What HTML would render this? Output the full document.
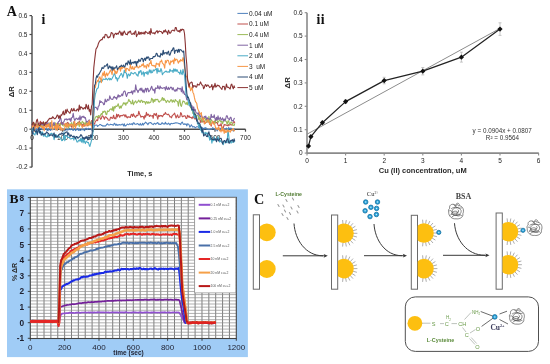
<!DOCTYPE html>
<html><head><meta charset="utf-8"><style>
html,body{margin:0;padding:0;background:#fff;width:550px;height:364px;overflow:hidden}
svg{display:block;filter:blur(0.3px)}
text{font-family:"Liberation Sans",sans-serif;fill:#333}
.t6{font-size:6.5px;fill:#222}
.t55{font-size:5.6px}
.t8{font-size:8px;fill:#1e2030}
.t35{font-size:3.4px;fill:#555}
.b7{font-size:7px;font-weight:bold;fill:#2a2a2a}
.b75{font-size:7.6px;font-weight:bold;fill:#1e2030}
.serifb{font-family:"Liberation Serif",serif;font-weight:bold;fill:#111}
.g5{font-size:5.2px;fill:#4f7a30;font-weight:bold}
.g6{font-size:5.6px;fill:#6a9a4a}
.g45{font-size:4.5px;fill:#6a9a4a}
.g55{font-size:5.4px;fill:#5a8a3a;font-weight:bold}
.s6{font-family:"Liberation Serif",serif;font-size:6.5px;fill:#333}
.s6b{font-family:"Liberation Serif",serif;font-size:7.5px;font-weight:bold;fill:#3a3a5a}
.sb7{font-family:"Liberation Serif",serif;font-size:8px;font-weight:bold;fill:#444}
</style></head><body>
<svg width="550" height="364" viewBox="0 0 550 364">
<line x1="32" y1="15.9" x2="32" y2="167.2" stroke="#4a4a4a" stroke-width="1.4"/>
<line x1="32" y1="129.2" x2="245.5" y2="129.2" stroke="#4a4a4a" stroke-width="1.4"/>
<line x1="29.5" y1="15.6" x2="32" y2="15.6" stroke="#4a4a4a" stroke-width="1.2"/>
<text x="27.5" y="17.9" class="t6" text-anchor="end">0.6</text>
<line x1="29.5" y1="34.5" x2="32" y2="34.5" stroke="#4a4a4a" stroke-width="1.2"/>
<text x="27.5" y="36.8" class="t6" text-anchor="end">0.5</text>
<line x1="29.5" y1="53.5" x2="32" y2="53.5" stroke="#4a4a4a" stroke-width="1.2"/>
<text x="27.5" y="55.8" class="t6" text-anchor="end">0.4</text>
<line x1="29.5" y1="72.4" x2="32" y2="72.4" stroke="#4a4a4a" stroke-width="1.2"/>
<text x="27.5" y="74.7" class="t6" text-anchor="end">0.3</text>
<line x1="29.5" y1="91.3" x2="32" y2="91.3" stroke="#4a4a4a" stroke-width="1.2"/>
<text x="27.5" y="93.6" class="t6" text-anchor="end">0.2</text>
<line x1="29.5" y1="110.3" x2="32" y2="110.3" stroke="#4a4a4a" stroke-width="1.2"/>
<text x="27.5" y="112.6" class="t6" text-anchor="end">0.1</text>
<line x1="29.5" y1="129.2" x2="32" y2="129.2" stroke="#4a4a4a" stroke-width="1.2"/>
<text x="27.5" y="131.5" class="t6" text-anchor="end">0</text>
<line x1="29.5" y1="148.1" x2="32" y2="148.1" stroke="#4a4a4a" stroke-width="1.2"/>
<text x="27.5" y="150.4" class="t6" text-anchor="end">-0.1</text>
<line x1="29.5" y1="167.1" x2="32" y2="167.1" stroke="#4a4a4a" stroke-width="1.2"/>
<text x="27.5" y="169.4" class="t6" text-anchor="end">-0.2</text>
<line x1="32.0" y1="129.2" x2="32.0" y2="131.7" stroke="#4a4a4a" stroke-width="1.2"/>
<text x="32.0" y="139.6" class="t6" text-anchor="middle">0</text>
<line x1="62.5" y1="129.2" x2="62.5" y2="131.7" stroke="#4a4a4a" stroke-width="1.2"/>
<text x="62.5" y="139.6" class="t6" text-anchor="middle">100</text>
<line x1="93.0" y1="129.2" x2="93.0" y2="131.7" stroke="#4a4a4a" stroke-width="1.2"/>
<text x="93.0" y="139.6" class="t6" text-anchor="middle">200</text>
<line x1="123.5" y1="129.2" x2="123.5" y2="131.7" stroke="#4a4a4a" stroke-width="1.2"/>
<text x="123.5" y="139.6" class="t6" text-anchor="middle">300</text>
<line x1="154.0" y1="129.2" x2="154.0" y2="131.7" stroke="#4a4a4a" stroke-width="1.2"/>
<text x="154.0" y="139.6" class="t6" text-anchor="middle">400</text>
<line x1="184.5" y1="129.2" x2="184.5" y2="131.7" stroke="#4a4a4a" stroke-width="1.2"/>
<text x="184.5" y="139.6" class="t6" text-anchor="middle">500</text>
<line x1="215.0" y1="129.2" x2="215.0" y2="131.7" stroke="#4a4a4a" stroke-width="1.2"/>
<text x="215.0" y="139.6" class="t6" text-anchor="middle">600</text>
<line x1="245.5" y1="129.2" x2="245.5" y2="131.7" stroke="#4a4a4a" stroke-width="1.2"/>
<text x="245.5" y="139.6" class="t6" text-anchor="middle">700</text>
<polyline points="32.0,128.7 32.8,128.5 33.5,129.0 34.3,130.3 35.0,129.4 35.8,130.0 36.6,129.0 37.3,130.0 38.1,128.6 38.9,128.7 39.6,127.5 40.4,128.5 41.1,128.5 41.9,129.3 42.7,129.7 43.4,128.1 44.2,129.0 45.0,128.7 45.7,128.9 46.5,128.5 47.2,130.5 48.0,130.7 48.8,128.9 49.5,127.4 50.3,130.5 51.1,129.9 51.8,129.1 52.6,129.6 53.3,129.5 54.1,129.5 54.9,128.5 55.6,129.1 56.4,129.1 57.2,130.1 57.9,128.8 58.7,127.8 59.5,128.6 60.2,129.4 61.0,130.2 61.7,129.0 62.5,128.9 63.3,129.4 64.0,131.0 64.8,130.0 65.5,130.2 66.3,130.0 67.1,129.1 67.8,130.1 68.6,129.5 69.4,128.3 70.1,129.8 70.9,129.4 71.7,128.8 72.4,129.7 73.2,130.5 73.9,129.2 74.7,128.6 75.5,130.6 76.2,129.7 77.0,129.7 77.8,128.3 78.5,130.4 79.3,129.6 80.0,130.5 80.8,130.2 81.6,129.4 82.3,129.6 83.1,129.4 83.8,129.9 84.6,130.6 85.4,128.7 86.1,128.1 86.9,129.2 87.7,129.6 88.4,128.3 89.2,128.8 89.9,129.0 90.7,128.6 91.5,129.9 92.2,129.5 93.0,128.3 93.8,127.8 94.5,125.6 95.3,125.3 96.0,125.0 96.8,125.0 97.6,126.4 98.3,125.6 99.1,125.1 99.9,124.5 100.6,124.5 101.4,125.4 102.1,125.4 102.9,126.2 103.7,125.7 104.4,125.9 105.2,126.2 106.0,125.5 106.7,124.4 107.5,123.8 108.2,124.7 109.0,125.1 109.8,124.8 110.5,124.3 111.3,124.5 112.1,124.6 112.8,125.0 113.6,125.1 114.3,123.2 115.1,123.9 115.9,125.4 116.6,124.2 117.4,125.3 118.2,124.6 118.9,125.1 119.7,124.5 120.5,125.0 121.2,124.9 122.0,124.2 122.7,124.1 123.5,125.9 124.3,123.7 125.0,126.1 125.8,125.8 126.5,125.0 127.3,124.1 128.1,124.5 128.8,124.8 129.6,123.7 130.4,124.3 131.1,124.4 131.9,123.7 132.6,124.8 133.4,122.7 134.2,123.1 134.9,124.2 135.7,124.2 136.5,124.1 137.2,123.6 138.0,123.8 138.8,124.8 139.5,125.0 140.3,123.4 141.0,125.1 141.8,124.9 142.6,123.3 143.3,125.1 144.1,123.7 144.8,123.2 145.6,122.1 146.4,122.8 147.1,123.7 147.9,124.7 148.7,123.0 149.4,122.9 150.2,122.6 150.9,122.6 151.7,123.7 152.5,124.1 153.2,124.7 154.0,123.6 154.8,123.2 155.5,124.2 156.3,123.7 157.1,123.0 157.8,122.5 158.6,124.2 159.3,123.9 160.1,124.5 160.9,124.5 161.6,123.1 162.4,122.9 163.2,123.9 163.9,123.8 164.7,124.1 165.4,122.3 166.2,123.9 167.0,123.9 167.7,124.2 168.5,123.1 169.2,123.9 170.0,125.0 170.8,123.5 171.5,123.4 172.3,123.7 173.1,123.5 173.8,123.4 174.6,123.3 175.3,122.7 176.1,123.0 176.9,122.8 177.6,123.0 178.4,123.2 179.2,123.7 179.9,123.6 180.7,124.6 181.4,122.9 182.2,122.0 183.0,123.6 183.7,124.5 184.5,123.8 185.3,124.4 186.0,123.8 186.8,125.9 187.5,123.8 188.3,124.0 189.1,124.9 189.8,127.2 190.6,126.2 191.4,124.9 192.1,126.0 192.9,127.1 193.7,126.6 194.4,126.8 195.2,128.0 195.9,127.4 196.7,126.7 197.5,126.8 198.2,127.0 199.0,127.7 199.8,128.7 200.5,128.4 201.3,126.9 202.0,127.9 202.8,127.9 203.6,129.4 204.3,127.9 205.1,128.6 205.8,127.6 206.6,129.1 207.4,129.1 208.1,129.3 208.9,129.7 209.7,129.5 210.4,129.1 211.2,129.2 211.9,128.9 212.7,127.7 213.5,128.6 214.2,128.7 215.0,129.7 215.8,127.8 216.5,129.6 217.3,130.9 218.0,129.3 218.8,128.9 219.6,129.9 220.3,128.2 221.1,130.4 221.9,130.5 222.6,129.4 223.4,129.5 224.2,129.4 224.9,128.8 225.7,129.3 226.4,128.1 227.2,130.3 228.0,128.9 228.7,127.6 229.5,128.9 230.2,128.5 231.0,128.1 231.8,129.0 232.5,129.4 233.3,131.1 234.1,129.9 234.8,128.4" fill="none" stroke="#4F81BD" stroke-width="1.1" stroke-linejoin="round" />
<polyline points="32.0,126.3 32.8,125.9 33.5,122.2 34.3,125.7 35.0,127.5 35.8,125.1 36.6,125.0 37.3,124.2 38.1,125.7 38.9,123.1 39.6,124.0 40.4,121.2 41.1,123.9 41.9,124.6 42.7,122.9 43.4,123.5 44.2,126.0 45.0,123.9 45.7,125.8 46.5,123.2 47.2,125.6 48.0,124.4 48.8,126.0 49.5,124.4 50.3,122.7 51.1,122.9 51.8,125.5 52.6,126.8 53.3,123.9 54.1,125.6 54.9,125.9 55.6,123.7 56.4,126.4 57.2,123.6 57.9,122.9 58.7,124.3 59.5,125.9 60.2,125.0 61.0,122.3 61.7,124.0 62.5,122.5 63.3,124.1 64.0,124.2 64.8,124.0 65.5,124.1 66.3,123.8 67.1,123.0 67.8,122.3 68.6,124.3 69.4,125.6 70.1,125.3 70.9,125.7 71.7,127.3 72.4,124.4 73.2,125.3 73.9,121.5 74.7,124.6 75.5,126.2 76.2,123.6 77.0,123.9 77.8,122.6 78.5,123.5 79.3,121.0 80.0,124.6 80.8,123.5 81.6,124.4 82.3,124.6 83.1,126.3 83.8,123.1 84.6,126.1 85.4,123.4 86.1,122.9 86.9,123.0 87.7,125.9 88.4,122.6 89.2,124.5 89.9,123.0 90.7,124.0 91.5,120.6 92.2,125.0 93.0,125.8 93.8,123.3 94.5,124.1 95.3,121.5 96.0,120.9 96.8,119.9 97.6,120.6 98.3,117.3 99.1,116.6 99.9,117.5 100.6,119.3 101.4,118.3 102.1,115.9 102.9,116.0 103.7,117.5 104.4,119.3 105.2,116.8 106.0,117.0 106.7,117.9 107.5,118.3 108.2,120.0 109.0,120.3 109.8,119.9 110.5,117.4 111.3,117.2 112.1,118.5 112.8,117.8 113.6,115.2 114.3,118.7 115.1,117.8 115.9,118.8 116.6,114.1 117.4,117.0 118.2,114.5 118.9,115.2 119.7,117.3 120.5,115.5 121.2,115.8 122.0,115.4 122.7,115.6 123.5,114.9 124.3,114.9 125.0,116.9 125.8,114.8 126.5,116.9 127.3,117.9 128.1,116.6 128.8,117.2 129.6,116.9 130.4,117.5 131.1,114.7 131.9,114.3 132.6,116.5 133.4,113.8 134.2,115.6 134.9,116.8 135.7,117.3 136.5,115.2 137.2,115.7 138.0,115.3 138.8,111.2 139.5,113.8 140.3,115.5 141.0,117.2 141.8,116.3 142.6,116.6 143.3,116.5 144.1,119.1 144.8,115.6 145.6,117.1 146.4,112.3 147.1,115.5 147.9,114.0 148.7,114.7 149.4,116.5 150.2,115.2 150.9,116.0 151.7,116.0 152.5,115.5 153.2,118.3 154.0,113.5 154.8,114.3 155.5,115.4 156.3,113.2 157.1,116.5 157.8,119.1 158.6,115.2 159.3,116.5 160.1,115.4 160.9,116.0 161.6,115.6 162.4,116.7 163.2,115.4 163.9,114.1 164.7,114.4 165.4,112.4 166.2,113.9 167.0,114.3 167.7,114.7 168.5,114.2 169.2,115.2 170.0,116.9 170.8,116.7 171.5,117.8 172.3,115.5 173.1,114.8 173.8,114.1 174.6,113.1 175.3,115.3 176.1,118.0 176.9,116.1 177.6,114.9 178.4,117.6 179.2,117.1 179.9,117.0 180.7,112.5 181.4,113.6 182.2,116.6 183.0,116.7 183.7,116.0 184.5,115.9 185.3,116.1 186.0,118.4 186.8,118.5 187.5,115.2 188.3,117.1 189.1,115.9 189.8,117.5 190.6,117.4 191.4,117.6 192.1,118.6 192.9,116.6 193.7,117.2 194.4,118.7 195.2,118.9 195.9,117.1 196.7,121.1 197.5,119.2 198.2,118.9 199.0,118.5 199.8,118.9 200.5,122.4 201.3,120.5 202.0,122.2 202.8,120.8 203.6,121.8 204.3,120.9 205.1,123.3 205.8,122.4 206.6,122.0 207.4,122.0 208.1,121.6 208.9,120.4 209.7,124.5 210.4,123.6 211.2,126.2 211.9,123.1 212.7,121.4 213.5,123.3 214.2,122.1 215.0,120.7 215.8,123.0 216.5,122.6 217.3,122.5 218.0,125.1 218.8,126.0 219.6,125.0 220.3,125.6 221.1,123.5 221.9,127.6 222.6,127.7 223.4,127.5 224.2,124.5 224.9,124.9 225.7,124.9 226.4,125.2 227.2,125.4 228.0,125.9 228.7,124.6 229.5,125.1 230.2,124.4 231.0,124.9 231.8,124.8 232.5,124.9 233.3,121.9 234.1,121.6 234.8,123.0" fill="none" stroke="#C0504D" stroke-width="1.1" stroke-linejoin="round" />
<polyline points="32.0,124.2 32.8,123.6 33.5,124.1 34.3,123.2 35.0,126.2 35.8,126.3 36.6,126.8 37.3,126.7 38.1,123.6 38.9,124.6 39.6,126.4 40.4,126.5 41.1,123.5 41.9,126.6 42.7,126.0 43.4,124.4 44.2,123.1 45.0,122.9 45.7,125.5 46.5,126.9 47.2,126.7 48.0,124.5 48.8,124.5 49.5,123.0 50.3,123.4 51.1,123.0 51.8,126.1 52.6,126.5 53.3,124.9 54.1,124.1 54.9,125.7 55.6,122.8 56.4,126.9 57.2,125.0 57.9,126.0 58.7,124.1 59.5,123.7 60.2,124.9 61.0,124.0 61.7,122.5 62.5,125.3 63.3,125.7 64.0,126.0 64.8,125.1 65.5,125.9 66.3,127.2 67.1,123.6 67.8,126.1 68.6,127.9 69.4,123.9 70.1,126.1 70.9,123.7 71.7,122.6 72.4,125.6 73.2,126.1 73.9,122.7 74.7,126.6 75.5,126.2 76.2,125.5 77.0,125.4 77.8,122.3 78.5,124.1 79.3,126.7 80.0,122.1 80.8,122.8 81.6,124.0 82.3,121.2 83.1,122.3 83.8,122.5 84.6,124.6 85.4,123.9 86.1,121.5 86.9,122.5 87.7,123.9 88.4,125.7 89.2,123.1 89.9,123.2 90.7,122.0 91.5,122.3 92.2,122.1 93.0,123.3 93.8,120.9 94.5,120.0 95.3,117.3 96.0,116.7 96.8,116.3 97.6,117.6 98.3,115.6 99.1,115.8 99.9,116.8 100.6,114.9 101.4,113.5 102.1,114.6 102.9,111.3 103.7,112.4 104.4,111.1 105.2,111.2 106.0,114.4 106.7,114.6 107.5,110.8 108.2,111.4 109.0,111.3 109.8,109.4 110.5,109.1 111.3,108.9 112.1,110.3 112.8,106.7 113.6,111.2 114.3,106.6 115.1,108.1 115.9,105.9 116.6,106.5 117.4,105.8 118.2,103.7 118.9,106.3 119.7,108.4 120.5,106.1 121.2,108.1 122.0,105.4 122.7,105.0 123.5,102.8 124.3,104.0 125.0,102.7 125.8,105.3 126.5,102.8 127.3,103.2 128.1,101.5 128.8,99.3 129.6,101.4 130.4,101.3 131.1,103.8 131.9,103.7 132.6,100.0 133.4,104.7 134.2,103.1 134.9,101.8 135.7,100.9 136.5,103.0 137.2,102.3 138.0,101.4 138.8,100.1 139.5,101.8 140.3,102.4 141.0,100.2 141.8,100.3 142.6,102.5 143.3,101.4 144.1,101.9 144.8,101.6 145.6,104.2 146.4,101.6 147.1,101.7 147.9,103.4 148.7,101.8 149.4,102.9 150.2,102.5 150.9,101.9 151.7,98.2 152.5,99.3 153.2,102.6 154.0,99.5 154.8,101.5 155.5,99.2 156.3,99.9 157.1,99.2 157.8,99.5 158.6,101.7 159.3,102.1 160.1,101.0 160.9,100.8 161.6,99.5 162.4,97.5 163.2,100.5 163.9,98.2 164.7,100.2 165.4,100.2 166.2,102.6 167.0,101.3 167.7,100.3 168.5,101.5 169.2,102.4 170.0,101.4 170.8,99.7 171.5,99.9 172.3,102.2 173.1,100.1 173.8,101.6 174.6,102.1 175.3,99.5 176.1,100.6 176.9,101.2 177.6,101.5 178.4,106.2 179.2,100.8 179.9,99.5 180.7,105.5 181.4,106.3 182.2,103.3 183.0,100.8 183.7,101.6 184.5,101.6 185.3,103.7 186.0,104.3 186.8,102.4 187.5,104.8 188.3,101.4 189.1,102.4 189.8,105.1 190.6,107.7 191.4,105.6 192.1,109.2 192.9,113.4 193.7,113.8 194.4,116.7 195.2,113.5 195.9,116.7 196.7,116.0 197.5,115.8 198.2,115.1 199.0,119.7 199.8,117.4 200.5,118.9 201.3,118.7 202.0,122.0 202.8,119.0 203.6,118.6 204.3,118.6 205.1,118.3 205.8,120.5 206.6,122.1 207.4,119.0 208.1,121.9 208.9,116.3 209.7,120.4 210.4,123.5 211.2,119.6 211.9,120.7 212.7,121.8 213.5,121.7 214.2,121.5 215.0,123.3 215.8,119.8 216.5,119.3 217.3,121.0 218.0,122.5 218.8,121.2 219.6,120.0 220.3,120.9 221.1,122.1 221.9,121.4 222.6,123.8 223.4,121.0 224.2,119.9 224.9,120.9 225.7,120.9 226.4,121.6 227.2,124.5 228.0,120.8 228.7,120.8 229.5,124.3 230.2,123.6 231.0,122.0 231.8,122.4 232.5,124.9 233.3,125.2 234.1,125.6 234.8,123.4" fill="none" stroke="#9BBB59" stroke-width="1.1" stroke-linejoin="round" />
<polyline points="32.0,124.1 32.8,126.0 33.5,126.4 34.3,128.6 35.0,125.8 35.8,124.9 36.6,126.2 37.3,126.0 38.1,128.1 38.9,123.2 39.6,124.4 40.4,125.7 41.1,124.1 41.9,124.3 42.7,124.7 43.4,125.2 44.2,124.7 45.0,123.9 45.7,123.1 46.5,122.9 47.2,123.6 48.0,122.7 48.8,124.5 49.5,127.0 50.3,127.1 51.1,122.9 51.8,126.8 52.6,125.7 53.3,124.0 54.1,122.2 54.9,127.2 55.6,125.9 56.4,125.0 57.2,124.6 57.9,123.1 58.7,121.3 59.5,121.2 60.2,117.2 61.0,118.7 61.7,123.8 62.5,124.4 63.3,122.1 64.0,121.7 64.8,119.1 65.5,119.4 66.3,118.9 67.1,120.1 67.8,119.2 68.6,119.0 69.4,119.8 70.1,118.3 70.9,121.5 71.7,117.5 72.4,117.5 73.2,113.3 73.9,117.9 74.7,120.7 75.5,119.2 76.2,118.1 77.0,118.8 77.8,119.5 78.5,117.9 79.3,119.7 80.0,115.7 80.8,120.1 81.6,117.2 82.3,116.4 83.1,117.5 83.8,116.2 84.6,118.0 85.4,117.6 86.1,120.9 86.9,122.1 87.7,121.5 88.4,120.8 89.2,119.8 89.9,124.1 90.7,124.1 91.5,124.8 92.2,122.3 93.0,124.5 93.8,113.2 94.5,107.0 95.3,107.5 96.0,107.2 96.8,108.6 97.6,110.0 98.3,106.2 99.1,105.8 99.9,100.5 100.6,102.5 101.4,101.6 102.1,102.5 102.9,102.8 103.7,104.7 104.4,104.3 105.2,99.1 106.0,101.7 106.7,101.6 107.5,99.2 108.2,100.3 109.0,100.2 109.8,95.9 110.5,98.1 111.3,99.3 112.1,99.2 112.8,99.4 113.6,97.3 114.3,96.4 115.1,98.0 115.9,97.3 116.6,99.3 117.4,97.0 118.2,94.7 118.9,97.2 119.7,95.6 120.5,96.3 121.2,95.6 122.0,93.9 122.7,95.7 123.5,92.0 124.3,91.1 125.0,91.1 125.8,94.5 126.5,96.5 127.3,94.2 128.1,92.6 128.8,92.6 129.6,92.7 130.4,92.2 131.1,92.7 131.9,90.8 132.6,94.1 133.4,91.2 134.2,90.5 134.9,92.1 135.7,84.8 136.5,89.8 137.2,90.2 138.0,92.6 138.8,90.2 139.5,89.9 140.3,88.2 141.0,90.7 141.8,88.1 142.6,92.0 143.3,90.0 144.1,92.8 144.8,89.9 145.6,88.2 146.4,91.9 147.1,88.3 147.9,88.3 148.7,91.8 149.4,91.0 150.2,90.0 150.9,88.0 151.7,86.2 152.5,89.5 153.2,90.3 154.0,89.2 154.8,93.1 155.5,87.9 156.3,88.3 157.1,88.5 157.8,85.6 158.6,88.1 159.3,89.0 160.1,86.0 160.9,88.3 161.6,87.8 162.4,88.4 163.2,88.1 163.9,87.7 164.7,87.6 165.4,90.2 166.2,86.3 167.0,89.0 167.7,89.4 168.5,87.3 169.2,89.5 170.0,88.2 170.8,87.0 171.5,87.4 172.3,89.8 173.1,87.6 173.8,89.6 174.6,90.9 175.3,91.2 176.1,89.3 176.9,90.9 177.6,87.8 178.4,88.4 179.2,89.1 179.9,88.3 180.7,88.7 181.4,91.8 182.2,86.7 183.0,93.1 183.7,91.1 184.5,94.5 185.3,94.2 186.0,96.2 186.8,99.8 187.5,98.8 188.3,101.2 189.1,103.1 189.8,105.9 190.6,102.9 191.4,106.2 192.1,105.8 192.9,110.5 193.7,106.9 194.4,110.4 195.2,109.4 195.9,112.5 196.7,113.1 197.5,113.1 198.2,114.8 199.0,112.1 199.8,116.3 200.5,117.0 201.3,115.0 202.0,116.5 202.8,118.7 203.6,118.0 204.3,116.4 205.1,117.5 205.8,116.0 206.6,119.8 207.4,117.7 208.1,119.3 208.9,118.8 209.7,119.2 210.4,119.6 211.2,114.2 211.9,117.5 212.7,116.7 213.5,117.4 214.2,114.8 215.0,118.8 215.8,120.5 216.5,117.4 217.3,119.8 218.0,115.9 218.8,119.6 219.6,118.9 220.3,117.3 221.1,120.1 221.9,119.1 222.6,117.9 223.4,120.9 224.2,118.9 224.9,120.9 225.7,119.0 226.4,115.8 227.2,115.9 228.0,118.6 228.7,118.9 229.5,119.9 230.2,117.4 231.0,117.3 231.8,120.9 232.5,120.5 233.3,121.0 234.1,118.6 234.8,118.3" fill="none" stroke="#8064A2" stroke-width="1.1" stroke-linejoin="round" />
<polyline points="32.0,128.9 32.8,133.5 33.5,133.2 34.3,134.5 35.0,134.9 35.8,130.8 36.6,133.0 37.3,133.8 38.1,131.6 38.9,129.9 39.6,131.4 40.4,131.8 41.1,135.2 41.9,131.8 42.7,132.4 43.4,136.2 44.2,136.0 45.0,133.6 45.7,136.6 46.5,136.9 47.2,137.0 48.0,134.0 48.8,136.5 49.5,135.8 50.3,134.4 51.1,133.2 51.8,133.4 52.6,134.2 53.3,134.8 54.1,139.7 54.9,136.9 55.6,134.6 56.4,134.9 57.2,137.5 57.9,135.7 58.7,136.9 59.5,136.8 60.2,137.6 61.0,139.1 61.7,140.6 62.5,140.4 63.3,138.7 64.0,132.1 64.8,140.6 65.5,137.1 66.3,135.7 67.1,135.9 67.8,137.4 68.6,137.4 69.4,137.3 70.1,138.8 70.9,139.1 71.7,138.5 72.4,138.4 73.2,138.1 73.9,140.1 74.7,136.6 75.5,137.6 76.2,139.5 77.0,142.0 77.8,141.9 78.5,140.4 79.3,139.9 80.0,141.3 80.8,138.2 81.6,142.2 82.3,137.5 83.1,142.9 83.8,139.1 84.6,142.1 85.4,143.6 86.1,141.1 86.9,141.8 87.7,142.7 88.4,142.4 89.2,145.2 89.9,146.4 90.7,143.4 91.5,140.4 92.2,138.1 93.0,132.1 93.8,113.7 94.5,100.1 95.3,94.3 96.0,92.2 96.8,89.0 97.6,88.3 98.3,87.8 99.1,81.0 99.9,82.2 100.6,81.4 101.4,79.7 102.1,81.2 102.9,79.5 103.7,79.0 104.4,79.3 105.2,79.6 106.0,78.2 106.7,79.1 107.5,80.0 108.2,78.9 109.0,78.2 109.8,80.0 110.5,78.6 111.3,79.7 112.1,78.5 112.8,77.1 113.6,75.4 114.3,73.5 115.1,75.1 115.9,78.6 116.6,77.7 117.4,81.2 118.2,78.2 118.9,78.2 119.7,75.9 120.5,75.1 121.2,73.3 122.0,74.3 122.7,77.3 123.5,75.3 124.3,70.2 125.0,72.6 125.8,72.6 126.5,73.3 127.3,78.3 128.1,74.7 128.8,74.0 129.6,75.9 130.4,74.9 131.1,72.2 131.9,73.3 132.6,73.3 133.4,74.0 134.2,73.2 134.9,72.5 135.7,72.9 136.5,75.1 137.2,74.8 138.0,76.2 138.8,71.5 139.5,73.0 140.3,70.7 141.0,70.6 141.8,74.8 142.6,73.2 143.3,71.7 144.1,76.3 144.8,72.5 145.6,72.5 146.4,73.6 147.1,71.4 147.9,74.6 148.7,72.2 149.4,69.8 150.2,72.9 150.9,70.0 151.7,72.9 152.5,72.3 153.2,69.9 154.0,70.8 154.8,70.0 155.5,69.3 156.3,68.5 157.1,73.3 157.8,68.4 158.6,71.6 159.3,70.8 160.1,72.0 160.9,68.5 161.6,70.2 162.4,74.8 163.2,73.3 163.9,72.7 164.7,72.0 165.4,71.5 166.2,71.0 167.0,72.2 167.7,71.9 168.5,71.9 169.2,72.4 170.0,69.2 170.8,71.2 171.5,71.0 172.3,70.4 173.1,72.5 173.8,68.7 174.6,71.2 175.3,69.1 176.1,71.5 176.9,69.5 177.6,70.9 178.4,72.5 179.2,72.5 179.9,74.3 180.7,70.1 181.4,73.3 182.2,74.6 183.0,69.4 183.7,72.6 184.5,75.3 185.3,84.1 186.0,94.9 186.8,96.9 187.5,96.2 188.3,100.7 189.1,105.7 189.8,102.4 190.6,106.0 191.4,107.3 192.1,110.7 192.9,110.7 193.7,114.9 194.4,118.0 195.2,115.3 195.9,117.8 196.7,117.4 197.5,124.0 198.2,123.8 199.0,127.7 199.8,124.3 200.5,130.1 201.3,129.1 202.0,133.0 202.8,132.4 203.6,133.2 204.3,132.8 205.1,133.7 205.8,132.3 206.6,134.0 207.4,133.0 208.1,136.7 208.9,135.9 209.7,140.2 210.4,136.5 211.2,138.6 211.9,143.2 212.7,139.3 213.5,140.7 214.2,136.9 215.0,140.4 215.8,139.4 216.5,139.6 217.3,138.7 218.0,136.6 218.8,139.9 219.6,142.0 220.3,140.5 221.1,141.6 221.9,142.2 222.6,142.2 223.4,144.7 224.2,141.4 224.9,141.5 225.7,142.0 226.4,142.5 227.2,142.7 228.0,128.7 228.7,135.4 229.5,142.3 230.2,140.7 231.0,143.2 231.8,141.1 232.5,142.3 233.3,142.2 234.1,141.9 234.8,141.2" fill="none" stroke="#4BACC6" stroke-width="1.1" stroke-linejoin="round" />
<polyline points="32.0,125.4 32.8,127.9 33.5,125.7 34.3,131.3 35.0,128.5 35.8,123.9 36.6,127.1 37.3,125.9 38.1,128.7 38.9,124.4 39.6,124.9 40.4,124.4 41.1,127.4 41.9,126.0 42.7,128.6 43.4,126.3 44.2,130.8 45.0,126.4 45.7,125.7 46.5,127.6 47.2,124.4 48.0,127.0 48.8,123.5 49.5,127.6 50.3,128.6 51.1,127.5 51.8,120.5 52.6,129.6 53.3,128.1 54.1,127.9 54.9,125.8 55.6,130.0 56.4,123.6 57.2,130.5 57.9,124.4 58.7,127.4 59.5,129.2 60.2,125.9 61.0,130.5 61.7,127.7 62.5,129.9 63.3,130.0 64.0,129.9 64.8,127.4 65.5,123.4 66.3,127.0 67.1,123.7 67.8,127.3 68.6,124.8 69.4,124.4 70.1,126.0 70.9,124.2 71.7,124.7 72.4,124.6 73.2,128.5 73.9,125.0 74.7,121.4 75.5,128.2 76.2,125.2 77.0,124.7 77.8,124.1 78.5,123.5 79.3,122.8 80.0,125.0 80.8,124.2 81.6,126.0 82.3,127.5 83.1,126.4 83.8,124.9 84.6,125.0 85.4,125.7 86.1,126.1 86.9,123.3 87.7,124.9 88.4,124.7 89.2,120.6 89.9,125.4 90.7,124.9 91.5,124.1 92.2,129.5 93.0,118.5 93.8,95.7 94.5,88.0 95.3,87.7 96.0,83.9 96.8,82.1 97.6,80.4 98.3,81.3 99.1,78.0 99.9,76.8 100.6,79.0 101.4,82.7 102.1,75.9 102.9,72.9 103.7,75.5 104.4,71.2 105.2,77.3 106.0,74.5 106.7,72.9 107.5,75.8 108.2,74.0 109.0,73.3 109.8,71.5 110.5,70.0 111.3,72.0 112.1,74.7 112.8,69.0 113.6,70.3 114.3,68.9 115.1,73.9 115.9,71.0 116.6,73.4 117.4,71.7 118.2,68.8 118.9,68.8 119.7,67.0 120.5,71.2 121.2,66.6 122.0,68.8 122.7,67.5 123.5,67.4 124.3,67.8 125.0,67.9 125.8,72.0 126.5,68.3 127.3,68.5 128.1,69.1 128.8,70.4 129.6,70.8 130.4,64.3 131.1,68.0 131.9,69.1 132.6,66.5 133.4,69.0 134.2,69.5 134.9,66.8 135.7,67.3 136.5,66.7 137.2,65.9 138.0,67.9 138.8,67.7 139.5,66.0 140.3,66.8 141.0,66.4 141.8,64.6 142.6,65.4 143.3,63.4 144.1,67.3 144.8,65.7 145.6,66.1 146.4,68.3 147.1,64.4 147.9,64.9 148.7,66.9 149.4,63.2 150.2,63.5 150.9,60.4 151.7,65.2 152.5,65.6 153.2,65.4 154.0,66.1 154.8,65.6 155.5,67.6 156.3,63.1 157.1,64.3 157.8,63.9 158.6,63.8 159.3,66.4 160.1,61.6 160.9,61.6 161.6,60.1 162.4,63.1 163.2,63.9 163.9,64.9 164.7,68.1 165.4,60.6 166.2,62.8 167.0,60.4 167.7,60.2 168.5,60.8 169.2,63.6 170.0,64.9 170.8,60.8 171.5,62.1 172.3,61.4 173.1,60.0 173.8,63.8 174.6,58.1 175.3,60.6 176.1,59.3 176.9,59.2 177.6,61.1 178.4,63.2 179.2,60.8 179.9,61.8 180.7,59.5 181.4,60.6 182.2,61.1 183.0,57.5 183.7,59.9 184.5,66.9 185.3,72.2 186.0,75.9 186.8,76.8 187.5,80.3 188.3,81.5 189.1,87.7 189.8,86.0 190.6,90.8 191.4,89.1 192.1,87.0 192.9,92.4 193.7,93.8 194.4,97.4 195.2,100.9 195.9,102.1 196.7,103.2 197.5,108.1 198.2,109.8 199.0,111.4 199.8,114.1 200.5,114.1 201.3,112.5 202.0,118.7 202.8,120.1 203.6,117.8 204.3,124.0 205.1,123.2 205.8,121.9 206.6,121.9 207.4,119.7 208.1,119.9 208.9,122.7 209.7,123.7 210.4,125.0 211.2,124.6 211.9,122.9 212.7,121.1 213.5,124.2 214.2,123.3 215.0,125.4 215.8,129.0 216.5,129.2 217.3,127.9 218.0,129.7 218.8,126.7 219.6,130.9 220.3,130.3 221.1,131.9 221.9,126.5 222.6,131.0 223.4,129.2 224.2,133.4 224.9,129.6 225.7,132.5 226.4,132.3 227.2,129.6 228.0,131.9 228.7,130.5 229.5,131.0 230.2,132.2 231.0,129.9 231.8,130.6 232.5,128.9 233.3,128.8 234.1,131.0 234.8,130.1" fill="none" stroke="#F79646" stroke-width="1.1" stroke-linejoin="round" />
<polyline points="32.0,131.4 32.8,134.4 33.5,127.2 34.3,130.2 35.0,130.9 35.8,131.9 36.6,130.5 37.3,134.6 38.1,130.5 38.9,127.7 39.6,133.1 40.4,131.1 41.1,134.0 41.9,135.1 42.7,133.2 43.4,134.6 44.2,134.4 45.0,133.5 45.7,134.0 46.5,131.9 47.2,132.4 48.0,133.3 48.8,133.8 49.5,135.5 50.3,135.2 51.1,134.7 51.8,135.1 52.6,136.0 53.3,134.3 54.1,132.9 54.9,137.5 55.6,135.1 56.4,137.1 57.2,136.8 57.9,136.3 58.7,134.8 59.5,134.2 60.2,133.8 61.0,134.5 61.7,132.9 62.5,133.2 63.3,135.0 64.0,133.6 64.8,133.5 65.5,132.3 66.3,132.1 67.1,131.7 67.8,135.4 68.6,132.9 69.4,135.4 70.1,136.7 70.9,134.8 71.7,135.9 72.4,136.4 73.2,137.2 73.9,135.9 74.7,137.3 75.5,138.8 76.2,136.5 77.0,136.6 77.8,138.2 78.5,137.8 79.3,136.9 80.0,136.5 80.8,134.6 81.6,135.2 82.3,136.9 83.1,138.8 83.8,137.5 84.6,139.3 85.4,136.9 86.1,138.4 86.9,136.2 87.7,140.0 88.4,137.1 89.2,137.1 89.9,138.8 90.7,134.8 91.5,137.3 92.2,132.9 93.0,110.5 93.8,97.6 94.5,85.5 95.3,83.9 96.0,78.5 96.8,75.7 97.6,77.3 98.3,74.3 99.1,74.2 99.9,72.6 100.6,71.3 101.4,69.7 102.1,67.3 102.9,68.5 103.7,68.0 104.4,65.9 105.2,66.1 106.0,66.0 106.7,64.7 107.5,63.9 108.2,68.8 109.0,67.2 109.8,65.9 110.5,68.0 111.3,66.9 112.1,70.3 112.8,66.7 113.6,69.3 114.3,67.8 115.1,68.3 115.9,67.2 116.6,65.7 117.4,69.6 118.2,68.3 118.9,67.5 119.7,66.4 120.5,66.8 121.2,65.1 122.0,66.3 122.7,66.6 123.5,65.1 124.3,67.0 125.0,66.7 125.8,63.2 126.5,63.0 127.3,65.0 128.1,60.8 128.8,62.2 129.6,64.3 130.4,59.9 131.1,64.5 131.9,62.8 132.6,62.3 133.4,63.2 134.2,61.5 134.9,63.1 135.7,61.4 136.5,66.0 137.2,61.2 138.0,62.7 138.8,59.3 139.5,61.2 140.3,61.3 141.0,59.1 141.8,58.2 142.6,58.7 143.3,61.9 144.1,59.3 144.8,58.2 145.6,60.5 146.4,57.0 147.1,58.4 147.9,56.8 148.7,57.2 149.4,60.1 150.2,58.9 150.9,58.5 151.7,58.5 152.5,58.5 153.2,56.6 154.0,57.0 154.8,56.2 155.5,56.1 156.3,53.2 157.1,53.7 157.8,56.3 158.6,56.0 159.3,56.1 160.1,57.1 160.9,53.2 161.6,54.5 162.4,55.2 163.2,50.2 163.9,54.3 164.7,52.8 165.4,53.0 166.2,52.4 167.0,54.3 167.7,52.4 168.5,51.2 169.2,54.9 170.0,55.1 170.8,52.5 171.5,50.4 172.3,50.6 173.1,48.0 173.8,47.8 174.6,53.5 175.3,50.8 176.1,50.3 176.9,50.1 177.6,52.4 178.4,49.2 179.2,52.2 179.9,49.4 180.7,49.8 181.4,50.2 182.2,51.4 183.0,52.2 183.7,50.9 184.5,61.5 185.3,72.3 186.0,83.1 186.8,93.1 187.5,97.6 188.3,97.1 189.1,99.6 189.8,101.7 190.6,103.8 191.4,108.4 192.1,109.9 192.9,109.7 193.7,109.8 194.4,114.1 195.2,114.3 195.9,115.1 196.7,120.8 197.5,120.7 198.2,123.7 199.0,122.8 199.8,123.6 200.5,127.2 201.3,127.3 202.0,132.0 202.8,128.9 203.6,136.0 204.3,135.3 205.1,134.1 205.8,134.9 206.6,136.5 207.4,136.6 208.1,134.0 208.9,131.7 209.7,135.5 210.4,135.4 211.2,138.4 211.9,139.3 212.7,139.6 213.5,139.5 214.2,138.8 215.0,139.9 215.8,138.7 216.5,141.8 217.3,138.8 218.0,139.8 218.8,140.9 219.6,138.9 220.3,138.5 221.1,138.2 221.9,141.1 222.6,144.0 223.4,141.3 224.2,140.6 224.9,140.5 225.7,142.9 226.4,141.0 227.2,138.8 228.0,138.7 228.7,143.0 229.5,143.1 230.2,141.3 231.0,140.3 231.8,140.6 232.5,139.6 233.3,141.9 234.1,138.8 234.8,141.4" fill="none" stroke="#2C4D75" stroke-width="1.1" stroke-linejoin="round" />
<polyline points="32.0,125.2 32.8,122.9 33.5,122.4 34.3,124.9 35.0,125.9 35.8,124.3 36.6,120.4 37.3,119.2 38.1,123.3 38.9,124.8 39.6,125.7 40.4,124.9 41.1,122.2 41.9,123.6 42.7,123.2 43.4,121.7 44.2,125.4 45.0,124.5 45.7,122.2 46.5,122.4 47.2,121.7 48.0,120.4 48.8,119.4 49.5,118.3 50.3,118.7 51.1,118.1 51.8,118.7 52.6,116.8 53.3,117.2 54.1,118.6 54.9,118.7 55.6,118.2 56.4,117.1 57.2,115.0 57.9,115.2 58.7,118.4 59.5,115.8 60.2,118.1 61.0,114.9 61.7,115.3 62.5,113.5 63.3,111.1 64.0,114.8 64.8,114.4 65.5,109.9 66.3,113.1 67.1,109.1 67.8,111.1 68.6,111.8 69.4,113.0 70.1,113.2 70.9,110.3 71.7,108.6 72.4,111.0 73.2,110.6 73.9,108.3 74.7,110.8 75.5,110.8 76.2,110.9 77.0,109.2 77.8,109.1 78.5,111.2 79.3,105.1 80.0,109.7 80.8,106.7 81.6,107.6 82.3,107.7 83.1,109.3 83.8,108.1 84.6,107.6 85.4,108.9 86.1,104.2 86.9,107.2 87.7,108.9 88.4,105.0 89.2,111.2 89.9,109.4 90.7,114.9 91.5,106.4 92.2,104.3 93.0,83.5 93.8,67.6 94.5,61.2 95.3,54.4 96.0,49.0 96.8,47.9 97.6,46.3 98.3,43.8 99.1,42.0 99.9,40.8 100.6,40.3 101.4,39.5 102.1,39.8 102.9,37.5 103.7,36.9 104.4,37.8 105.2,34.4 106.0,34.8 106.7,34.8 107.5,37.1 108.2,37.8 109.0,36.8 109.8,37.3 110.5,35.5 111.3,32.5 112.1,33.1 112.8,33.5 113.6,38.0 114.3,34.7 115.1,33.8 115.9,33.2 116.6,34.4 117.4,33.3 118.2,34.1 118.9,32.6 119.7,31.0 120.5,32.9 121.2,35.3 122.0,32.1 122.7,35.4 123.5,32.8 124.3,31.0 125.0,32.6 125.8,34.4 126.5,34.3 127.3,34.8 128.1,31.9 128.8,33.0 129.6,31.5 130.4,31.0 131.1,33.5 131.9,34.5 132.6,33.9 133.4,33.0 134.2,34.5 134.9,31.6 135.7,30.9 136.5,36.6 137.2,34.7 138.0,34.4 138.8,31.6 139.5,34.3 140.3,32.5 141.0,34.2 141.8,32.2 142.6,33.4 143.3,33.8 144.1,32.1 144.8,34.2 145.6,31.3 146.4,32.1 147.1,32.7 147.9,33.6 148.7,33.2 149.4,31.4 150.2,34.7 150.9,28.6 151.7,32.8 152.5,33.1 153.2,33.4 154.0,32.7 154.8,34.0 155.5,32.5 156.3,31.4 157.1,30.7 157.8,33.0 158.6,31.4 159.3,31.1 160.1,31.5 160.9,31.5 161.6,31.9 162.4,33.6 163.2,32.4 163.9,30.5 164.7,31.9 165.4,29.8 166.2,32.0 167.0,31.9 167.7,34.4 168.5,30.2 169.2,31.8 170.0,33.4 170.8,32.7 171.5,30.7 172.3,30.5 173.1,30.1 173.8,30.8 174.6,30.9 175.3,27.6 176.1,27.5 176.9,30.3 177.6,31.1 178.4,31.5 179.2,30.4 179.9,32.2 180.7,29.3 181.4,30.6 182.2,29.1 183.0,29.8 183.7,29.6 184.5,33.5 185.3,43.6 186.0,56.0 186.8,64.7 187.5,78.3 188.3,83.9 189.1,86.8 189.8,83.1 190.6,82.9 191.4,82.0 192.1,82.4 192.9,87.8 193.7,85.6 194.4,86.2 195.2,85.8 195.9,87.1 196.7,86.9 197.5,84.0 198.2,84.8 199.0,85.1 199.8,83.8 200.5,81.9 201.3,83.8 202.0,85.1 202.8,85.2 203.6,88.8 204.3,87.6 205.1,85.0 205.8,84.6 206.6,86.5 207.4,85.0 208.1,85.1 208.9,86.2 209.7,87.6 210.4,86.9 211.2,86.6 211.9,84.5 212.7,89.8 213.5,86.1 214.2,87.0 215.0,83.4 215.8,87.1 216.5,86.5 217.3,85.1 218.0,85.8 218.8,85.4 219.6,86.6 220.3,87.5 221.1,88.5 221.9,89.5 222.6,86.3 223.4,86.6 224.2,86.4 224.9,89.9 225.7,88.2 226.4,84.0 227.2,87.0 228.0,87.4 228.7,87.4 229.5,88.3 230.2,89.0 231.0,85.0 231.8,84.2 232.5,86.8 233.3,88.8 234.1,85.9 234.8,87.9" fill="none" stroke="#8A3434" stroke-width="1.1" stroke-linejoin="round" />
<line x1="237.4" y1="13.4" x2="248" y2="13.4" stroke="#4F81BD" stroke-width="1.0"/>
<text x="249" y="15.7" class="t6">0.04 uM</text>
<line x1="237.4" y1="24.0" x2="248" y2="24.0" stroke="#C0504D" stroke-width="1.0"/>
<text x="249" y="26.3" class="t6">0.1 uM</text>
<line x1="237.4" y1="34.6" x2="248" y2="34.6" stroke="#9BBB59" stroke-width="1.0"/>
<text x="249" y="36.9" class="t6">0.4 uM</text>
<line x1="237.4" y1="45.2" x2="248" y2="45.2" stroke="#8064A2" stroke-width="1.0"/>
<text x="249" y="47.5" class="t6">1 uM</text>
<line x1="237.4" y1="55.8" x2="248" y2="55.8" stroke="#4BACC6" stroke-width="1.0"/>
<text x="249" y="58.1" class="t6">2 uM</text>
<line x1="237.4" y1="66.4" x2="248" y2="66.4" stroke="#F79646" stroke-width="1.0"/>
<text x="249" y="68.7" class="t6">3&#160; uM</text>
<line x1="237.4" y1="77.0" x2="248" y2="77.0" stroke="#2C4D75" stroke-width="1.0"/>
<text x="249" y="79.3" class="t6">4 uM</text>
<line x1="237.4" y1="87.6" x2="248" y2="87.6" stroke="#8A3434" stroke-width="1.0"/>
<text x="249" y="89.9" class="t6">5 uM</text>
<text x="6.8" y="16.4" class="serifb" font-size="14">A</text>
<text x="41.4" y="23.7" class="serifb" font-size="13.8">i</text>
<text transform="translate(13.6,91.8) rotate(-90)" class="b7" style="font-size:7.6px" text-anchor="middle">&#916;R</text>
<text x="139.8" y="176" class="b7" style="font-size:7.3px" text-anchor="middle">Time, s</text>
<line x1="307.0" y1="12.7" x2="307.0" y2="153.1" stroke="#8a8a8a" stroke-width="1.6"/>
<line x1="307.0" y1="153.1" x2="538.8" y2="153.1" stroke="#8a8a8a" stroke-width="1.6"/>
<line x1="304.7" y1="153.1" x2="307.0" y2="153.1" stroke="#8a8a8a" stroke-width="1.1"/>
<text x="302.6" y="155.4" class="t6" text-anchor="end">0</text>
<line x1="307.0" y1="153.1" x2="307.0" y2="155.5" stroke="#8a8a8a" stroke-width="1.1"/>
<text x="307.0" y="162.8" class="t6" text-anchor="middle">0</text>
<line x1="304.7" y1="129.7" x2="307.0" y2="129.7" stroke="#8a8a8a" stroke-width="1.1"/>
<text x="302.6" y="132.0" class="t6" text-anchor="end">0.1</text>
<line x1="345.6" y1="153.1" x2="345.6" y2="155.5" stroke="#8a8a8a" stroke-width="1.1"/>
<text x="345.6" y="162.8" class="t6" text-anchor="middle">1</text>
<line x1="304.7" y1="106.3" x2="307.0" y2="106.3" stroke="#8a8a8a" stroke-width="1.1"/>
<text x="302.6" y="108.6" class="t6" text-anchor="end">0.2</text>
<line x1="384.2" y1="153.1" x2="384.2" y2="155.5" stroke="#8a8a8a" stroke-width="1.1"/>
<text x="384.2" y="162.8" class="t6" text-anchor="middle">2</text>
<line x1="304.7" y1="82.9" x2="307.0" y2="82.9" stroke="#8a8a8a" stroke-width="1.1"/>
<text x="302.6" y="85.2" class="t6" text-anchor="end">0.3</text>
<line x1="422.8" y1="153.1" x2="422.8" y2="155.5" stroke="#8a8a8a" stroke-width="1.1"/>
<text x="422.8" y="162.8" class="t6" text-anchor="middle">3</text>
<line x1="304.7" y1="59.5" x2="307.0" y2="59.5" stroke="#8a8a8a" stroke-width="1.1"/>
<text x="302.6" y="61.8" class="t6" text-anchor="end">0.4</text>
<line x1="461.4" y1="153.1" x2="461.4" y2="155.5" stroke="#8a8a8a" stroke-width="1.1"/>
<text x="461.4" y="162.8" class="t6" text-anchor="middle">4</text>
<line x1="304.7" y1="36.1" x2="307.0" y2="36.1" stroke="#8a8a8a" stroke-width="1.1"/>
<text x="302.6" y="38.4" class="t6" text-anchor="end">0.5</text>
<line x1="500.0" y1="153.1" x2="500.0" y2="155.5" stroke="#8a8a8a" stroke-width="1.1"/>
<text x="500.0" y="162.8" class="t6" text-anchor="middle">5</text>
<line x1="304.7" y1="12.7" x2="307.0" y2="12.7" stroke="#8a8a8a" stroke-width="1.1"/>
<text x="302.6" y="15.0" class="t6" text-anchor="end">0.6</text>
<line x1="538.6" y1="153.1" x2="538.6" y2="155.5" stroke="#8a8a8a" stroke-width="1.1"/>
<text x="538.6" y="162.8" class="t6" text-anchor="middle">6</text>
<line x1="307.0" y1="134.2" x2="500.0" y2="28.4" stroke="#8c8c8c" stroke-width="1.0"/>
<line x1="308.5" y1="147.0" x2="308.5" y2="145.1" stroke="#b0b0b0" stroke-width="0.7"/>
<line x1="307.0" y1="147.0" x2="310.0" y2="147.0" stroke="#b0b0b0" stroke-width="0.7"/>
<line x1="307.0" y1="145.1" x2="310.0" y2="145.1" stroke="#b0b0b0" stroke-width="0.7"/>
<line x1="310.9" y1="137.9" x2="310.9" y2="135.5" stroke="#b0b0b0" stroke-width="0.7"/>
<line x1="309.4" y1="137.9" x2="312.4" y2="137.9" stroke="#b0b0b0" stroke-width="0.7"/>
<line x1="309.4" y1="135.5" x2="312.4" y2="135.5" stroke="#b0b0b0" stroke-width="0.7"/>
<line x1="322.4" y1="124.1" x2="322.4" y2="121.3" stroke="#b0b0b0" stroke-width="0.7"/>
<line x1="320.9" y1="124.1" x2="323.9" y2="124.1" stroke="#b0b0b0" stroke-width="0.7"/>
<line x1="320.9" y1="121.3" x2="323.9" y2="121.3" stroke="#b0b0b0" stroke-width="0.7"/>
<line x1="345.6" y1="103.5" x2="345.6" y2="99.7" stroke="#b0b0b0" stroke-width="0.7"/>
<line x1="344.1" y1="103.5" x2="347.1" y2="103.5" stroke="#b0b0b0" stroke-width="0.7"/>
<line x1="344.1" y1="99.7" x2="347.1" y2="99.7" stroke="#b0b0b0" stroke-width="0.7"/>
<line x1="384.2" y1="83.8" x2="384.2" y2="77.3" stroke="#b0b0b0" stroke-width="0.7"/>
<line x1="382.7" y1="83.8" x2="385.7" y2="83.8" stroke="#b0b0b0" stroke-width="0.7"/>
<line x1="382.7" y1="77.3" x2="385.7" y2="77.3" stroke="#b0b0b0" stroke-width="0.7"/>
<line x1="422.8" y1="74.9" x2="422.8" y2="67.5" stroke="#b0b0b0" stroke-width="0.7"/>
<line x1="421.3" y1="74.9" x2="424.3" y2="74.9" stroke="#b0b0b0" stroke-width="0.7"/>
<line x1="421.3" y1="67.5" x2="424.3" y2="67.5" stroke="#b0b0b0" stroke-width="0.7"/>
<line x1="461.4" y1="62.1" x2="461.4" y2="52.2" stroke="#b0b0b0" stroke-width="0.7"/>
<line x1="459.9" y1="62.1" x2="462.9" y2="62.1" stroke="#b0b0b0" stroke-width="0.7"/>
<line x1="459.9" y1="52.2" x2="462.9" y2="52.2" stroke="#b0b0b0" stroke-width="0.7"/>
<line x1="500.0" y1="35.4" x2="500.0" y2="22.8" stroke="#b0b0b0" stroke-width="0.7"/>
<line x1="498.5" y1="35.4" x2="501.5" y2="35.4" stroke="#b0b0b0" stroke-width="0.7"/>
<line x1="498.5" y1="22.8" x2="501.5" y2="22.8" stroke="#b0b0b0" stroke-width="0.7"/>
<polyline points="308.5,146.1 310.9,136.7 322.4,122.7 345.6,101.6 384.2,80.6 422.8,71.2 461.4,57.2 500.0,29.1" fill="none" stroke="#222" stroke-width="1.25" stroke-linejoin="round" />
<path d="M308.5 143.5L311.1 146.1L308.5 148.7L305.9 146.1Z" fill="#111"/>
<path d="M310.9 134.1L313.5 136.7L310.9 139.3L308.3 136.7Z" fill="#111"/>
<path d="M322.4 120.1L325.0 122.7L322.4 125.3L319.8 122.7Z" fill="#111"/>
<path d="M345.6 99.0L348.2 101.6L345.6 104.2L343.0 101.6Z" fill="#111"/>
<path d="M384.2 78.0L386.8 80.6L384.2 83.2L381.6 80.6Z" fill="#111"/>
<path d="M422.8 68.6L425.4 71.2L422.8 73.8L420.2 71.2Z" fill="#111"/>
<path d="M461.4 54.6L464.0 57.2L461.4 59.8L458.8 57.2Z" fill="#111"/>
<path d="M500.0 26.5L502.6 29.1L500.0 31.7L497.4 29.1Z" fill="#111"/>
<text x="316.4" y="23.8" class="serifb" font-size="13.8" letter-spacing="0.6">ii</text>
<text transform="translate(290.2,82.8) rotate(-90)" class="b7" style="font-size:7.8px" text-anchor="middle">&#916;R</text>
<text x="422.7" y="172.6" class="b7" style="font-size:7.5px" text-anchor="middle">Cu (II) concentration, uM</text>
<text x="502.2" y="133.0" class="t55" style="font-size:6.3px" text-anchor="middle">y = 0.0904x + 0.0807</text>
<text x="502.4" y="140.2" class="t55" style="font-size:6.3px" text-anchor="middle">R² = 0.9564</text>
<rect x="7" y="189.3" width="240.9" height="167.8" fill="#A0CCF6"/>
<rect x="30.3" y="197.4" width="206.0" height="141.1" fill="#ffffff"/>
<path d="M37.17 197.4V338.5 M44.03 197.4V338.5 M50.90 197.4V338.5 M57.77 197.4V338.5 M64.63 197.4V338.5 M71.50 197.4V338.5 M78.37 197.4V338.5 M85.23 197.4V338.5 M92.10 197.4V338.5 M98.97 197.4V338.5 M105.83 197.4V338.5 M112.70 197.4V338.5 M119.57 197.4V338.5 M126.43 197.4V338.5 M133.30 197.4V338.5 M140.17 197.4V338.5 M147.03 197.4V338.5 M153.90 197.4V338.5 M160.77 197.4V338.5 M167.63 197.4V338.5 M174.50 197.4V338.5 M181.37 197.4V338.5 M188.23 197.4V338.5 M195.10 197.4V338.5 M201.97 197.4V338.5 M208.83 197.4V338.5 M215.70 197.4V338.5 M222.57 197.4V338.5 M229.43 197.4V338.5" stroke="#6e6e6e" stroke-width="0.9" fill="none"/>
<path d="M30.3 200.54H236.3 M30.3 203.67H236.3 M30.3 206.81H236.3 M30.3 209.94H236.3 M30.3 213.08H236.3 M30.3 216.21H236.3 M30.3 219.35H236.3 M30.3 222.48H236.3 M30.3 225.62H236.3 M30.3 228.76H236.3 M30.3 231.89H236.3 M30.3 235.03H236.3 M30.3 238.16H236.3 M30.3 241.30H236.3 M30.3 244.43H236.3 M30.3 247.57H236.3 M30.3 250.70H236.3 M30.3 253.84H236.3 M30.3 256.98H236.3 M30.3 260.11H236.3 M30.3 263.25H236.3 M30.3 266.38H236.3 M30.3 269.52H236.3 M30.3 272.65H236.3 M30.3 275.79H236.3 M30.3 278.92H236.3 M30.3 282.06H236.3 M30.3 285.20H236.3 M30.3 288.33H236.3 M30.3 291.47H236.3 M30.3 294.60H236.3 M30.3 297.74H236.3 M30.3 300.87H236.3 M30.3 304.01H236.3 M30.3 307.14H236.3 M30.3 310.28H236.3 M30.3 313.42H236.3 M30.3 316.55H236.3 M30.3 319.69H236.3 M30.3 322.82H236.3 M30.3 325.96H236.3 M30.3 329.09H236.3 M30.3 332.23H236.3 M30.3 335.36H236.3" stroke="#8e8e8e" stroke-width="0.7" fill="none"/>
<rect x="30.3" y="197.4" width="206.0" height="141.1" fill="none" stroke="#444" stroke-width="1.1"/>
<line x1="27.8" y1="338.3" x2="30.3" y2="338.3" stroke="#333" stroke-width="0.9"/>
<text x="24.2" y="341.3" class="b75" style="font-size:8.3px" text-anchor="end">-1</text>
<line x1="27.8" y1="322.7" x2="30.3" y2="322.7" stroke="#333" stroke-width="0.9"/>
<text x="24.2" y="325.7" class="b75" style="font-size:8.3px" text-anchor="end">0</text>
<line x1="27.8" y1="307.1" x2="30.3" y2="307.1" stroke="#333" stroke-width="0.9"/>
<text x="24.2" y="310.1" class="b75" style="font-size:8.3px" text-anchor="end">1</text>
<line x1="27.8" y1="291.4" x2="30.3" y2="291.4" stroke="#333" stroke-width="0.9"/>
<text x="24.2" y="294.4" class="b75" style="font-size:8.3px" text-anchor="end">2</text>
<line x1="27.8" y1="275.8" x2="30.3" y2="275.8" stroke="#333" stroke-width="0.9"/>
<text x="24.2" y="278.8" class="b75" style="font-size:8.3px" text-anchor="end">3</text>
<line x1="27.8" y1="260.1" x2="30.3" y2="260.1" stroke="#333" stroke-width="0.9"/>
<text x="24.2" y="263.1" class="b75" style="font-size:8.3px" text-anchor="end">4</text>
<line x1="27.8" y1="244.5" x2="30.3" y2="244.5" stroke="#333" stroke-width="0.9"/>
<text x="24.2" y="247.5" class="b75" style="font-size:8.3px" text-anchor="end">5</text>
<line x1="27.8" y1="228.9" x2="30.3" y2="228.9" stroke="#333" stroke-width="0.9"/>
<text x="24.2" y="231.9" class="b75" style="font-size:8.3px" text-anchor="end">6</text>
<line x1="27.8" y1="213.2" x2="30.3" y2="213.2" stroke="#333" stroke-width="0.9"/>
<text x="24.2" y="216.2" class="b75" style="font-size:8.3px" text-anchor="end">7</text>
<line x1="27.8" y1="197.6" x2="30.3" y2="197.6" stroke="#333" stroke-width="0.9"/>
<text x="24.2" y="200.6" class="b75" style="font-size:8.3px" text-anchor="end">8</text>
<line x1="30.3" y1="338.5" x2="30.3" y2="340.8" stroke="#333" stroke-width="0.9"/>
<text x="30.3" y="349.8" class="t8" text-anchor="middle">0</text>
<line x1="64.6" y1="338.5" x2="64.6" y2="340.8" stroke="#333" stroke-width="0.9"/>
<text x="64.6" y="349.8" class="t8" text-anchor="middle">200</text>
<line x1="99.0" y1="338.5" x2="99.0" y2="340.8" stroke="#333" stroke-width="0.9"/>
<text x="99.0" y="349.8" class="t8" text-anchor="middle">400</text>
<line x1="133.3" y1="338.5" x2="133.3" y2="340.8" stroke="#333" stroke-width="0.9"/>
<text x="133.3" y="349.8" class="t8" text-anchor="middle">600</text>
<line x1="167.6" y1="338.5" x2="167.6" y2="340.8" stroke="#333" stroke-width="0.9"/>
<text x="167.6" y="349.8" class="t8" text-anchor="middle">800</text>
<line x1="202.0" y1="338.5" x2="202.0" y2="340.8" stroke="#333" stroke-width="0.9"/>
<text x="202.0" y="349.8" class="t8" text-anchor="middle">1000</text>
<line x1="236.3" y1="338.5" x2="236.3" y2="340.8" stroke="#333" stroke-width="0.9"/>
<text x="236.3" y="349.8" class="t8" text-anchor="middle">1200</text>
<text transform="translate(16.6,272) rotate(-90)" class="b7" text-anchor="middle">% &#916;R</text>
<text x="128.5" y="355.2" class="b75" style="font-size:6.5px" text-anchor="middle">time (sec)</text>
<text x="9.6" y="203.2" class="serifb" font-size="13.5">B</text>
<polyline points="30.3,321.5 31.2,321.5 32.0,321.4 32.9,321.4 33.7,321.4 34.6,321.5 35.5,321.5 36.3,321.5 37.2,321.6 38.0,321.4 38.9,321.4 39.7,321.4 40.6,321.2 41.5,321.2 42.3,321.5 43.2,321.5 44.0,321.4 44.9,321.6 45.8,321.6 46.6,321.2 47.5,321.7 48.3,321.6 49.2,321.5 50.0,321.4 50.9,321.2 51.8,321.3 52.6,321.6 53.5,321.6 54.3,321.7 55.2,321.3 56.0,321.4 56.9,321.7 57.8,321.5 58.6,322.2 59.5,320.1 60.3,315.5 61.2,314.7 62.1,313.6 62.9,313.5 63.8,313.4 64.6,313.2 65.5,313.3 66.3,313.1 67.2,313.2 68.1,313.2 68.9,312.9 69.8,312.7 70.6,312.7 71.5,312.9 72.4,312.8 73.2,312.8 74.1,313.0 74.9,313.0 75.8,312.7 76.7,312.7 77.5,312.7 78.4,312.6 79.2,312.7 80.1,312.8 80.9,312.7 81.8,312.5 82.7,312.5 83.5,312.5 84.4,312.5 85.2,312.3 86.1,312.6 87.0,312.5 87.8,312.5 88.7,312.4 89.5,312.6 90.4,312.4 91.2,312.5 92.1,312.6 93.0,312.6 93.8,312.4 94.7,312.3 95.5,312.5 96.4,312.5 97.2,312.2 98.1,312.3 99.0,312.4 99.8,312.4 100.7,312.3 101.5,312.3 102.4,312.3 103.3,312.3 104.1,312.4 105.0,312.5 105.8,312.5 106.7,312.3 107.5,312.5 108.4,312.4 109.3,312.6 110.1,312.5 111.0,312.5 111.8,312.3 112.7,312.3 113.6,312.3 114.4,312.4 115.3,312.3 116.1,312.4 117.0,312.3 117.8,312.4 118.7,312.6 119.6,312.5 120.4,312.4 121.3,312.4 122.1,312.3 123.0,312.3 123.9,312.6 124.7,312.4 125.6,312.2 126.4,312.2 127.3,312.5 128.2,312.6 129.0,312.5 129.9,312.5 130.7,312.5 131.6,312.6 132.4,312.3 133.3,312.4 134.2,312.2 135.0,312.4 135.9,312.4 136.7,312.5 137.6,312.5 138.5,312.6 139.3,312.4 140.2,312.4 141.0,312.4 141.9,312.6 142.7,312.7 143.6,312.5 144.5,312.4 145.3,312.4 146.2,312.4 147.0,312.3 147.9,312.4 148.8,312.5 149.6,312.5 150.5,312.6 151.3,312.4 152.2,312.6 153.0,312.3 153.9,312.3 154.8,312.4 155.6,312.5 156.5,312.5 157.3,312.6 158.2,312.5 159.1,312.5 159.9,312.6 160.8,312.5 161.6,312.4 162.5,312.3 163.3,312.4 164.2,312.4 165.1,312.2 165.9,312.5 166.8,312.5 167.6,312.7 168.5,312.3 169.4,312.4 170.2,312.7 171.1,312.5 171.9,312.5 172.8,312.4 173.6,312.3 174.5,312.4 175.4,312.5 176.2,312.4 177.1,312.4 177.9,312.5 178.8,312.4 179.7,313.4 180.5,314.7 181.4,316.4 182.2,317.9 183.1,319.6 183.9,321.2 184.8,322.7 185.7,322.7 186.5,322.5 187.4,322.7 188.2,323.0 189.1,322.9 190.0,322.8 190.8,322.8 191.7,322.8 192.5,322.6 193.4,322.4 194.2,322.6 195.1,322.7 196.0,322.9 196.8,322.8 197.7,322.7 198.5,322.5 199.4,322.7 200.2,322.5 201.1,322.7 202.0,322.9 202.8,322.6 203.7,322.4 204.5,322.4 205.4,322.6 206.3,322.7 207.1,322.8 208.0,322.8 208.8,322.9 209.7,322.6 210.6,322.7 211.4,322.6 212.3,322.4 213.1,322.7 214.0,322.7 214.8,322.9 215.7,322.8" fill="none" stroke="#9050D0" stroke-width="1.7" stroke-linejoin="round" />
<polyline points="30.3,321.6 31.2,321.4 32.0,321.6 32.9,321.5 33.7,321.4 34.6,321.3 35.5,321.4 36.3,321.1 37.2,321.3 38.0,321.1 38.9,321.2 39.7,321.3 40.6,321.7 41.5,321.6 42.3,321.4 43.2,321.5 44.0,321.6 44.9,321.7 45.8,321.4 46.6,321.2 47.5,321.3 48.3,321.7 49.2,321.5 50.0,321.3 50.9,321.7 51.8,321.4 52.6,321.4 53.5,321.5 54.3,321.2 55.2,321.5 56.0,321.5 56.9,321.2 57.8,321.5 58.6,322.0 59.5,317.4 60.3,307.0 61.2,306.7 62.1,306.5 62.9,306.1 63.8,305.8 64.6,305.4 65.5,305.3 66.3,305.3 67.2,304.9 68.1,305.0 68.9,304.8 69.8,304.5 70.6,304.6 71.5,304.2 72.4,304.1 73.2,304.2 74.1,304.3 74.9,304.1 75.8,304.0 76.7,303.7 77.5,303.7 78.4,303.4 79.2,303.2 80.1,303.0 80.9,303.3 81.8,303.1 82.7,302.9 83.5,302.8 84.4,302.7 85.2,302.7 86.1,302.6 87.0,302.6 87.8,302.2 88.7,302.1 89.5,302.3 90.4,302.3 91.2,301.9 92.1,302.2 93.0,302.2 93.8,302.2 94.7,301.9 95.5,301.9 96.4,301.8 97.2,301.8 98.1,301.6 99.0,301.6 99.8,301.5 100.7,301.6 101.5,301.6 102.4,301.3 103.3,301.5 104.1,301.2 105.0,301.4 105.8,301.0 106.7,301.0 107.5,300.9 108.4,300.9 109.3,300.9 110.1,301.0 111.0,300.7 111.8,300.8 112.7,300.7 113.6,300.8 114.4,300.7 115.3,300.4 116.1,300.6 117.0,300.5 117.8,300.4 118.7,300.5 119.6,300.3 120.4,300.4 121.3,300.6 122.1,300.3 123.0,300.4 123.9,300.4 124.7,300.4 125.6,300.4 126.4,300.2 127.3,300.2 128.2,300.3 129.0,300.0 129.9,300.3 130.7,300.1 131.6,300.3 132.4,300.0 133.3,300.1 134.2,300.0 135.0,300.0 135.9,299.8 136.7,300.0 137.6,299.9 138.5,299.9 139.3,299.9 140.2,299.9 141.0,299.9 141.9,299.9 142.7,299.8 143.6,299.9 144.5,299.6 145.3,299.5 146.2,299.6 147.0,299.9 147.9,299.8 148.8,300.0 149.6,299.8 150.5,299.7 151.3,299.6 152.2,299.6 153.0,299.5 153.9,299.6 154.8,299.4 155.6,300.0 156.5,299.9 157.3,299.6 158.2,299.8 159.1,299.6 159.9,299.7 160.8,299.8 161.6,299.9 162.5,299.8 163.3,299.8 164.2,299.6 165.1,299.6 165.9,299.7 166.8,299.7 167.6,299.7 168.5,299.8 169.4,299.8 170.2,299.6 171.1,299.7 171.9,299.8 172.8,299.9 173.6,300.0 174.5,299.9 175.4,299.5 176.2,299.6 177.1,299.9 177.9,299.9 178.8,299.8 179.7,301.1 180.5,304.9 181.4,308.3 182.2,312.2 183.1,315.7 183.9,319.5 184.8,322.6 185.7,322.5 186.5,322.6 187.4,322.6 188.2,322.8 189.1,322.9 190.0,322.9 190.8,322.6 191.7,322.7 192.5,322.7 193.4,322.5 194.2,322.5 195.1,323.0 196.0,322.7 196.8,322.7 197.7,322.6 198.5,322.5 199.4,322.8 200.2,322.6 201.1,322.7 202.0,322.6 202.8,322.7 203.7,322.6 204.5,322.8 205.4,322.7 206.3,322.6 207.1,322.9 208.0,322.8 208.8,323.0 209.7,322.8 210.6,322.7 211.4,322.6 212.3,322.6 213.1,322.6 214.0,322.6 214.8,322.9 215.7,322.8" fill="none" stroke="#74209A" stroke-width="1.7" stroke-linejoin="round" />
<polyline points="30.3,321.1 31.2,321.4 32.0,321.8 32.9,321.7 33.7,321.5 34.6,321.4 35.5,321.7 36.3,321.3 37.2,321.4 38.0,321.7 38.9,321.4 39.7,321.5 40.6,321.5 41.5,321.5 42.3,321.4 43.2,321.3 44.0,320.9 44.9,321.4 45.8,322.0 46.6,321.8 47.5,321.3 48.3,321.5 49.2,321.3 50.0,321.6 50.9,321.7 51.8,322.1 52.6,322.0 53.5,321.3 54.3,321.4 55.2,321.6 56.0,321.5 56.9,321.7 57.8,321.8 58.6,322.1 59.5,307.2 60.3,289.6 61.2,288.9 62.1,286.6 62.9,286.1 63.8,285.6 64.6,284.9 65.5,284.8 66.3,284.0 67.2,284.0 68.1,283.6 68.9,283.3 69.8,282.5 70.6,282.1 71.5,281.2 72.4,281.3 73.2,280.3 74.1,280.5 74.9,280.0 75.8,279.5 76.7,279.5 77.5,279.3 78.4,279.4 79.2,278.8 80.1,278.5 80.9,277.4 81.8,277.0 82.7,277.2 83.5,276.5 84.4,276.7 85.2,276.9 86.1,276.6 87.0,276.7 87.8,276.6 88.7,276.3 89.5,275.6 90.4,275.5 91.2,275.4 92.1,275.2 93.0,274.3 93.8,274.9 94.7,274.1 95.5,274.4 96.4,273.8 97.2,273.9 98.1,273.6 99.0,273.7 99.8,273.0 100.7,273.5 101.5,272.9 102.4,273.0 103.3,273.1 104.1,272.6 105.0,271.7 105.8,271.7 106.7,272.0 107.5,271.5 108.4,271.8 109.3,271.6 110.1,271.3 111.0,271.4 111.8,271.5 112.7,271.2 113.6,271.1 114.4,270.7 115.3,270.4 116.1,270.6 117.0,270.5 117.8,269.5 118.7,269.9 119.6,270.5 120.4,270.0 121.3,268.8 122.1,269.0 123.0,269.3 123.9,269.0 124.7,269.0 125.6,269.0 126.4,269.5 127.3,269.0 128.2,269.1 129.0,269.5 129.9,269.2 130.7,268.9 131.6,269.3 132.4,268.9 133.3,268.9 134.2,268.4 135.0,268.8 135.9,269.0 136.7,268.3 137.6,268.6 138.5,269.0 139.3,267.9 140.2,268.0 141.0,268.5 141.9,269.2 142.7,269.2 143.6,268.5 144.5,269.2 145.3,269.0 146.2,269.3 147.0,268.9 147.9,269.3 148.8,269.2 149.6,268.8 150.5,268.6 151.3,268.4 152.2,269.3 153.0,269.0 153.9,268.8 154.8,268.1 155.6,268.5 156.5,269.0 157.3,269.2 158.2,269.7 159.1,268.6 159.9,269.1 160.8,269.0 161.6,268.6 162.5,268.9 163.3,268.6 164.2,269.3 165.1,268.7 165.9,268.8 166.8,269.0 167.6,269.0 168.5,269.2 169.4,268.7 170.2,268.6 171.1,268.7 171.9,268.6 172.8,268.9 173.6,269.2 174.5,269.4 175.4,268.4 176.2,268.8 177.1,268.6 177.9,269.0 178.8,268.0 179.7,275.6 180.5,285.2 181.4,293.8 182.2,300.0 183.1,305.1 183.9,310.8 184.8,316.9 185.7,322.8 186.5,322.8 187.4,322.3 188.2,322.4 189.1,323.2 190.0,323.2 190.8,322.3 191.7,323.0 192.5,322.9 193.4,322.8 194.2,322.5 195.1,322.5 196.0,322.5 196.8,322.7 197.7,322.8 198.5,322.9 199.4,323.0 200.2,322.9 201.1,322.5 202.0,322.4 202.8,322.9 203.7,323.2 204.5,322.7 205.4,322.8 206.3,322.8 207.1,322.6 208.0,322.0 208.8,322.3 209.7,323.0 210.6,322.3 211.4,322.7 212.3,323.1 213.1,323.3 214.0,322.7 214.8,322.4 215.7,322.6" fill="none" stroke="#1A2AE6" stroke-width="2.0" stroke-linejoin="round" />
<polyline points="30.3,320.8 31.2,321.1 32.0,321.1 32.9,320.5 33.7,321.0 34.6,321.4 35.5,321.7 36.3,321.5 37.2,321.9 38.0,321.3 38.9,321.3 39.7,321.6 40.6,321.9 41.5,321.7 42.3,321.6 43.2,321.6 44.0,321.7 44.9,321.3 45.8,321.0 46.6,321.5 47.5,321.6 48.3,321.7 49.2,321.3 50.0,321.5 50.9,321.5 51.8,321.3 52.6,321.8 53.5,321.8 54.3,321.7 55.2,322.0 56.0,321.7 56.9,321.9 57.8,321.8 58.6,321.7 59.5,300.2 60.3,275.8 61.2,270.5 62.1,268.8 62.9,266.4 63.8,264.9 64.6,264.0 65.5,263.9 66.3,262.8 67.2,262.1 68.1,262.1 68.9,261.2 69.8,260.6 70.6,260.4 71.5,259.9 72.4,259.0 73.2,258.3 74.1,258.5 74.9,257.3 75.8,257.1 76.7,256.6 77.5,256.5 78.4,255.5 79.2,254.6 80.1,253.9 80.9,253.8 81.8,253.7 82.7,253.4 83.5,252.8 84.4,252.3 85.2,252.1 86.1,252.0 87.0,251.8 87.8,251.6 88.7,251.4 89.5,250.8 90.4,250.4 91.2,250.5 92.1,250.6 93.0,250.4 93.8,250.1 94.7,249.9 95.5,249.6 96.4,249.0 97.2,248.7 98.1,249.0 99.0,247.9 99.8,247.9 100.7,247.8 101.5,247.6 102.4,247.6 103.3,247.4 104.1,247.2 105.0,246.8 105.8,246.8 106.7,246.3 107.5,246.3 108.4,245.9 109.3,246.1 110.1,245.7 111.0,245.7 111.8,245.2 112.7,245.2 113.6,244.7 114.4,244.5 115.3,244.4 116.1,244.6 117.0,244.4 117.8,244.3 118.7,243.8 119.6,244.2 120.4,243.8 121.3,243.6 122.1,242.9 123.0,242.8 123.9,242.5 124.7,242.9 125.6,242.7 126.4,243.2 127.3,242.5 128.2,243.0 129.0,243.6 129.9,242.8 130.7,242.9 131.6,242.9 132.4,243.0 133.3,242.9 134.2,243.1 135.0,243.2 135.9,242.7 136.7,243.2 137.6,243.0 138.5,243.1 139.3,242.7 140.2,242.8 141.0,242.9 141.9,242.6 142.7,242.8 143.6,242.7 144.5,242.8 145.3,242.9 146.2,242.9 147.0,243.5 147.9,242.6 148.8,242.8 149.6,243.0 150.5,242.4 151.3,242.8 152.2,242.8 153.0,243.0 153.9,243.0 154.8,242.8 155.6,242.9 156.5,243.4 157.3,243.2 158.2,242.4 159.1,242.8 159.9,243.3 160.8,243.5 161.6,242.9 162.5,243.4 163.3,243.2 164.2,242.9 165.1,243.0 165.9,242.8 166.8,242.8 167.6,242.7 168.5,243.0 169.4,243.2 170.2,242.8 171.1,243.2 171.9,243.1 172.8,242.9 173.6,243.2 174.5,243.0 175.4,243.1 176.2,243.0 177.1,244.9 177.9,246.4 178.8,253.0 179.7,263.1 180.5,273.5 181.4,283.6 182.2,290.4 183.1,296.1 183.9,302.9 184.8,309.6 185.7,316.3 186.5,322.5 187.4,322.1 188.2,322.8 189.1,322.6 190.0,322.7 190.8,322.7 191.7,322.5 192.5,322.5 193.4,322.5 194.2,322.4 195.1,323.0 196.0,322.5 196.8,322.3 197.7,322.5 198.5,322.6 199.4,322.3 200.2,322.6 201.1,322.6 202.0,322.7 202.8,322.8 203.7,322.6 204.5,322.9 205.4,322.5 206.3,322.4 207.1,323.0 208.0,323.5 208.8,322.9 209.7,322.6 210.6,322.5 211.4,322.7 212.3,323.0 213.1,323.0 214.0,322.4 214.8,322.7 215.7,322.6" fill="none" stroke="#4A70A8" stroke-width="1.9" stroke-linejoin="round" />
<polyline points="30.3,321.2 31.2,321.1 32.0,321.1 32.9,321.6 33.7,321.5 34.6,321.0 35.5,321.5 36.3,321.1 37.2,321.3 38.0,320.9 38.9,321.0 39.7,321.2 40.6,321.3 41.5,321.5 42.3,321.6 43.2,321.4 44.0,321.7 44.9,321.3 45.8,320.7 46.6,321.4 47.5,321.6 48.3,321.0 49.2,321.5 50.0,321.4 50.9,321.5 51.8,321.2 52.6,322.2 53.5,321.0 54.3,321.3 55.2,321.5 56.0,321.7 56.9,321.7 57.8,323.0 58.6,326.0 59.5,322.0 60.3,267.7 61.2,263.1 62.1,261.4 62.9,259.8 63.8,257.3 64.6,256.6 65.5,256.0 66.3,255.3 67.2,254.0 68.1,253.5 68.9,253.5 69.8,252.5 70.6,251.4 71.5,250.5 72.4,250.4 73.2,249.9 74.1,249.3 74.9,248.9 75.8,248.9 76.7,248.2 77.5,247.7 78.4,247.4 79.2,246.9 80.1,246.1 80.9,245.9 81.8,246.0 82.7,245.5 83.5,245.0 84.4,244.9 85.2,244.5 86.1,244.3 87.0,244.5 87.8,244.4 88.7,243.8 89.5,243.1 90.4,243.0 91.2,243.0 92.1,242.9 93.0,242.5 93.8,242.4 94.7,242.0 95.5,242.5 96.4,241.6 97.2,241.5 98.1,241.9 99.0,241.0 99.8,240.4 100.7,241.1 101.5,240.2 102.4,240.6 103.3,240.5 104.1,240.1 105.0,239.8 105.8,239.5 106.7,239.1 107.5,239.0 108.4,238.3 109.3,238.5 110.1,238.2 111.0,238.0 111.8,238.1 112.7,237.4 113.6,237.1 114.4,237.3 115.3,236.7 116.1,236.9 117.0,237.0 117.8,236.7 118.7,236.3 119.6,236.0 120.4,235.1 121.3,235.3 122.1,235.7 123.0,235.4 123.9,235.3 124.7,234.3 125.6,234.3 126.4,234.5 127.3,234.0 128.2,234.0 129.0,234.6 129.9,234.4 130.7,233.9 131.6,234.1 132.4,233.9 133.3,233.6 134.2,234.0 135.0,234.0 135.9,234.3 136.7,234.4 137.6,234.4 138.5,234.0 139.3,234.0 140.2,233.9 141.0,234.1 141.9,234.8 142.7,234.3 143.6,234.0 144.5,234.4 145.3,234.1 146.2,234.2 147.0,234.1 147.9,233.9 148.8,234.3 149.6,234.1 150.5,234.6 151.3,234.4 152.2,233.9 153.0,233.8 153.9,234.3 154.8,234.2 155.6,234.8 156.5,234.2 157.3,234.4 158.2,234.3 159.1,234.7 159.9,234.8 160.8,234.7 161.6,234.7 162.5,234.4 163.3,234.2 164.2,234.4 165.1,234.5 165.9,234.1 166.8,234.4 167.6,234.5 168.5,234.4 169.4,234.7 170.2,234.6 171.1,234.4 171.9,235.2 172.8,234.2 173.6,233.8 174.5,234.1 175.4,233.9 176.2,234.0 177.1,234.4 177.9,234.6 178.8,234.1 179.7,237.2 180.5,249.7 181.4,267.1 182.2,283.6 183.1,290.4 183.9,297.2 184.8,303.7 185.7,310.3 186.5,317.4 187.4,322.4 188.2,323.6 189.1,323.3 190.0,322.5 190.8,323.2 191.7,323.0 192.5,322.5 193.4,322.7 194.2,322.8 195.1,322.4 196.0,322.8 196.8,323.0 197.7,322.3 198.5,322.5 199.4,323.1 200.2,322.7 201.1,323.0 202.0,322.7 202.8,322.5 203.7,322.3 204.5,322.6 205.4,322.0 206.3,322.5 207.1,322.3 208.0,322.6 208.8,322.4 209.7,322.8 210.6,323.1 211.4,322.6 212.3,322.6 213.1,322.8 214.0,322.4 214.8,322.3 215.7,322.0" fill="none" stroke="#E52626" stroke-width="2.0" stroke-linejoin="round" />
<polyline points="30.3,321.3 31.2,321.2 32.0,321.5 32.9,321.6 33.7,321.3 34.6,321.1 35.5,321.4 36.3,321.5 37.2,321.8 38.0,321.7 38.9,321.6 39.7,321.9 40.6,321.3 41.5,321.5 42.3,321.2 43.2,321.4 44.0,321.5 44.9,321.0 45.8,321.3 46.6,321.3 47.5,321.2 48.3,321.2 49.2,321.2 50.0,321.5 50.9,321.0 51.8,321.4 52.6,321.4 53.5,321.2 54.3,321.6 55.2,321.7 56.0,321.5 56.9,321.5 57.8,321.8 58.6,322.5 59.5,299.5 60.3,272.3 61.2,266.2 62.1,264.0 62.9,262.1 63.8,259.9 64.6,259.1 65.5,258.5 66.3,257.6 67.2,256.9 68.1,256.1 68.9,255.7 69.8,254.7 70.6,253.8 71.5,252.9 72.4,252.6 73.2,252.3 74.1,251.7 74.9,250.8 75.8,250.0 76.7,249.4 77.5,249.0 78.4,249.1 79.2,247.7 80.1,247.0 80.9,246.6 81.8,245.9 82.7,245.4 83.5,245.5 84.4,245.0 85.2,244.6 86.1,244.5 87.0,244.1 87.8,243.1 88.7,243.6 89.5,243.2 90.4,242.5 91.2,242.5 92.1,242.4 93.0,241.8 93.8,241.4 94.7,241.0 95.5,240.7 96.4,240.5 97.2,239.8 98.1,239.8 99.0,239.8 99.8,239.4 100.7,238.8 101.5,238.8 102.4,238.7 103.3,238.2 104.1,238.0 105.0,237.4 105.8,237.4 106.7,237.3 107.5,236.9 108.4,236.0 109.3,235.4 110.1,235.3 111.0,235.3 111.8,235.2 112.7,235.0 113.6,235.1 114.4,234.5 115.3,234.1 116.1,233.5 117.0,233.5 117.8,233.0 118.7,232.7 119.6,232.7 120.4,232.0 121.3,232.2 122.1,231.4 123.0,231.2 123.9,230.8 124.7,230.5 125.6,230.5 126.4,230.4 127.3,230.0 128.2,230.3 129.0,230.4 129.9,230.1 130.7,230.2 131.6,230.2 132.4,230.2 133.3,230.5 134.2,230.3 135.0,230.5 135.9,230.2 136.7,230.3 137.6,230.0 138.5,230.0 139.3,229.8 140.2,230.0 141.0,230.5 141.9,230.0 142.7,229.6 143.6,230.0 144.5,230.5 145.3,230.5 146.2,230.2 147.0,229.6 147.9,229.7 148.8,229.7 149.6,229.9 150.5,229.8 151.3,229.3 152.2,230.0 153.0,230.1 153.9,230.3 154.8,230.2 155.6,229.9 156.5,229.9 157.3,230.1 158.2,229.8 159.1,229.6 159.9,229.7 160.8,230.1 161.6,229.9 162.5,230.0 163.3,229.8 164.2,229.9 165.1,229.9 165.9,229.9 166.8,229.8 167.6,229.6 168.5,229.9 169.4,229.9 170.2,229.7 171.1,229.8 171.9,229.6 172.8,229.6 173.6,229.9 174.5,229.8 175.4,229.6 176.2,229.7 177.1,229.8 177.9,229.4 178.8,229.7 179.7,233.3 180.5,247.6 181.4,265.4 182.2,283.6 183.1,290.5 183.9,297.5 184.8,303.8 185.7,310.6 186.5,317.3 187.4,322.7 188.2,322.5 189.1,322.4 190.0,322.9 190.8,323.2 191.7,322.7 192.5,322.6 193.4,322.6 194.2,322.5 195.1,322.4 196.0,322.6 196.8,322.3 197.7,322.9 198.5,322.8 199.4,322.5 200.2,322.5 201.1,322.4 202.0,322.6 202.8,323.0 203.7,322.6 204.5,322.6 205.4,322.8 206.3,322.6 207.1,322.5 208.0,322.7 208.8,322.6 209.7,322.8 210.6,322.6 211.4,323.0 212.3,322.7 213.1,322.4 214.0,322.2 214.8,322.6 215.7,322.9" fill="none" stroke="#F5A048" stroke-width="2.6" stroke-linejoin="round" />
<polyline points="30.3,321.8 31.2,321.4 32.0,321.2 32.9,320.9 33.7,321.2 34.6,320.9 35.5,321.6 36.3,321.2 37.2,321.4 38.0,321.5 38.9,321.4 39.7,321.5 40.6,321.4 41.5,321.5 42.3,321.2 43.2,321.7 44.0,321.9 44.9,321.9 45.8,321.2 46.6,321.4 47.5,321.3 48.3,321.5 49.2,321.5 50.0,321.0 50.9,321.8 51.8,321.9 52.6,321.6 53.5,321.7 54.3,321.7 55.2,321.2 56.0,321.3 56.9,320.8 57.8,321.2 58.6,322.4 59.5,295.4 60.3,265.1 61.2,260.0 62.1,258.5 62.9,256.2 63.8,253.8 64.6,253.3 65.5,252.4 66.3,251.6 67.2,250.5 68.1,249.3 68.9,248.4 69.8,248.0 70.6,247.0 71.5,245.6 72.4,244.9 73.2,244.8 74.1,244.6 74.9,243.8 75.8,243.8 76.7,243.3 77.5,243.0 78.4,242.7 79.2,242.2 80.1,241.5 80.9,240.9 81.8,240.7 82.7,240.6 83.5,240.5 84.4,240.3 85.2,239.9 86.1,239.6 87.0,239.2 87.8,238.9 88.7,238.4 89.5,237.9 90.4,238.0 91.2,238.0 92.1,237.3 93.0,237.3 93.8,236.6 94.7,236.4 95.5,236.6 96.4,235.6 97.2,235.6 98.1,234.7 99.0,234.8 99.8,234.4 100.7,234.8 101.5,234.5 102.4,234.0 103.3,233.9 104.1,233.0 105.0,233.0 105.8,232.0 106.7,232.2 107.5,232.0 108.4,231.6 109.3,230.9 110.1,231.4 111.0,231.5 111.8,230.9 112.7,231.0 113.6,230.1 114.4,230.3 115.3,229.8 116.1,230.1 117.0,229.4 117.8,229.3 118.7,229.1 119.6,228.8 120.4,228.1 121.3,227.7 122.1,227.5 123.0,227.6 123.9,227.4 124.7,227.8 125.6,226.9 126.4,227.2 127.3,227.3 128.2,227.6 129.0,227.3 129.9,226.8 130.7,226.9 131.6,227.3 132.4,227.2 133.3,227.8 134.2,227.0 135.0,227.3 135.9,227.3 136.7,227.3 137.6,227.3 138.5,227.6 139.3,227.0 140.2,226.8 141.0,227.0 141.9,226.8 142.7,226.8 143.6,227.4 144.5,227.6 145.3,227.1 146.2,227.1 147.0,226.8 147.9,227.0 148.8,227.2 149.6,226.6 150.5,226.8 151.3,226.4 152.2,226.6 153.0,227.0 153.9,226.6 154.8,226.1 155.6,226.4 156.5,225.8 157.3,226.0 158.2,226.2 159.1,226.3 159.9,226.4 160.8,226.5 161.6,225.7 162.5,226.7 163.3,225.9 164.2,226.4 165.1,225.7 165.9,226.6 166.8,226.5 167.6,226.9 168.5,226.2 169.4,225.7 170.2,225.8 171.1,225.6 171.9,225.6 172.8,225.8 173.6,225.7 174.5,225.6 175.4,225.9 176.2,225.9 177.1,225.6 177.9,225.5 178.8,225.7 179.7,234.7 180.5,251.4 181.4,270.9 182.2,291.2 183.1,297.3 183.9,303.0 184.8,308.5 185.7,314.0 186.5,320.3 187.4,322.7 188.2,322.6 189.1,323.2 190.0,323.1 190.8,323.1 191.7,322.8 192.5,322.3 193.4,322.6 194.2,322.4 195.1,322.7 196.0,322.5 196.8,322.1 197.7,323.1 198.5,323.6 199.4,323.0 200.2,322.7 201.1,322.7 202.0,322.6 202.8,322.7 203.7,322.4 204.5,322.8 205.4,322.6 206.3,322.8 207.1,323.0 208.0,322.8 208.8,323.1 209.7,323.5 210.6,322.9 211.4,323.6 212.3,323.3 213.1,323.0 214.0,322.9 214.8,322.4 215.7,322.4" fill="none" stroke="#B81818" stroke-width="2.0" stroke-linejoin="round" />
<polyline points="30.3,321.4 57.8,321.4" fill="none" stroke="#E52626" stroke-width="3.0" stroke-linejoin="round" />
<polyline points="187.2,322.7 215.9,322.7" fill="none" stroke="#E02222" stroke-width="2.2" stroke-linejoin="round" />
<rect x="194.7" y="197.7" width="41.1" height="95.2" fill="#fff" stroke="#8a8a8a" stroke-width="0.7"/>
<line x1="198.7" y1="204.8" x2="210.2" y2="204.8" stroke="#9050D0" stroke-width="2"/>
<text x="210.6" y="206.1" class="t35">0.1 nM cu+2</text>
<line x1="198.7" y1="218.4" x2="210.2" y2="218.4" stroke="#74209A" stroke-width="2"/>
<text x="210.6" y="219.7" class="t35">0.25 nM cu+2</text>
<line x1="198.7" y1="231.9" x2="210.2" y2="231.9" stroke="#1A2AE6" stroke-width="2"/>
<text x="210.6" y="233.2" class="t35">1.0 nM cu+2</text>
<line x1="198.7" y1="245.5" x2="210.2" y2="245.5" stroke="#4A70A8" stroke-width="2"/>
<text x="210.6" y="246.8" class="t35">2.5 nM cu+2</text>
<line x1="198.7" y1="259.0" x2="210.2" y2="259.0" stroke="#E52626" stroke-width="2"/>
<text x="210.6" y="260.3" class="t35">10 nM cu+2</text>
<line x1="198.7" y1="272.6" x2="210.2" y2="272.6" stroke="#F5A048" stroke-width="2"/>
<text x="210.6" y="273.9" class="t35">20 nM cu+2</text>
<line x1="198.7" y1="286.1" x2="210.2" y2="286.1" stroke="#B81818" stroke-width="2"/>
<text x="210.6" y="287.4" class="t35">100 nM cu+2</text>
<text x="253.9" y="203.6" class="serifb" font-size="14.2">C</text>
<clipPath id="c1"><rect x="259.6" y="200" width="30" height="100"/></clipPath>
<g clip-path="url(#c1)">
<circle cx="266.8" cy="232.3" r="8.9" fill="#FDBF10"/>
<circle cx="266.8" cy="269.0" r="8.9" fill="#FDBF10"/>
</g>
<rect x="253.3" y="214.8" width="6.2" height="74.4" fill="#fff" stroke="#6a6a6a" stroke-width="1"/>
<path d="M285.9 199.5L287.1 201.5 M292.4 198.0L293.6 200.0 M277.9 204.5L279.1 206.5 M282.9 205.0L284.1 207.0 M290.9 207.0L292.1 209.0 M297.9 205.5L299.1 207.5 M284.4 210.0L285.6 212.0 M296.9 211.0L298.1 213.0 M289.4 212.5L290.6 214.5 M281.9 213.5L283.1 215.5 M286.9 217.5L288.1 219.5" stroke="#999" stroke-width="1.05" stroke-linecap="round"/>
<text x="288.7" y="196.1" class="g5" text-anchor="middle">L-Cysteine</text>
<path d="M294 223.5 C295 239.65 305.6 255.8 323 255.8" fill="none" stroke="#3a3a3a" stroke-width="1"/>
<line x1="282.8" y1="255.8" x2="325.8" y2="255.8" stroke="#3a3a3a" stroke-width="1"/>
<path d="M327.8 255.8 L323.6 253.9 L324.6 255.8 L323.6 257.7Z" fill="#333"/>
<rect x="331.5" y="215.0" width="6.2" height="74.2" fill="#fff" stroke="#6a6a6a" stroke-width="1"/>
<clipPath id="c2"><rect x="337.9" y="200" width="40" height="100"/></clipPath>
<g clip-path="url(#c2)">
<path d="M343.0 224.1L342.6 220.0 M345.6 224.1L346.3 220.1 M348.1 224.9L349.9 221.3 M350.2 226.4L353.0 223.3 M351.9 228.4L355.4 226.2 M352.9 230.7L356.9 229.6 M353.3 233.3L357.4 233.3 M352.9 235.9L356.9 237.0 M351.9 238.2L355.4 240.4 M350.2 240.2L353.0 243.3 M348.1 241.7L349.9 245.3 M345.6 242.5L346.3 246.5 M343.0 242.5L342.6 246.6" stroke="#8a8a8a" stroke-width="0.7"/>
<circle cx="344.0" cy="233.3" r="9.8" fill="#FDBF10"/>
<path d="M343.0 259.4L342.6 255.3 M345.6 259.4L346.3 255.4 M348.1 260.2L349.9 256.6 M350.2 261.7L353.0 258.6 M351.9 263.7L355.4 261.5 M352.9 266.0L356.9 264.9 M353.3 268.6L357.4 268.6 M352.9 271.2L356.9 272.3 M351.9 273.5L355.4 275.7 M350.2 275.5L353.0 278.6 M348.1 277.0L349.9 280.6 M345.6 277.8L346.3 281.8 M343.0 277.8L342.6 281.9" stroke="#8a8a8a" stroke-width="0.7"/>
<circle cx="344.0" cy="268.6" r="9.8" fill="#FDBF10"/>
</g>
<text x="366.8" y="196.4" class="s6">Cu<tspan font-size="4" dy="-2.4">2+</tspan></text>
<circle cx="365.7" cy="202" r="2.25" fill="#2aa3da" stroke="#16709f" stroke-width="0.8"/><circle cx="365.7" cy="202" r="0.74" fill="#c8ecff"/>
<circle cx="377.5" cy="202" r="2.25" fill="#2aa3da" stroke="#16709f" stroke-width="0.8"/><circle cx="377.5" cy="202" r="0.74" fill="#c8ecff"/>
<circle cx="370.9" cy="207.3" r="2.25" fill="#2aa3da" stroke="#16709f" stroke-width="0.8"/><circle cx="370.9" cy="207.3" r="0.74" fill="#c8ecff"/>
<circle cx="376.6" cy="208.4" r="2.25" fill="#2aa3da" stroke="#16709f" stroke-width="0.8"/><circle cx="376.6" cy="208.4" r="0.74" fill="#c8ecff"/>
<circle cx="365.1" cy="210.8" r="2.25" fill="#2aa3da" stroke="#16709f" stroke-width="0.8"/><circle cx="365.1" cy="210.8" r="0.74" fill="#c8ecff"/>
<circle cx="376.4" cy="214.5" r="2.25" fill="#2aa3da" stroke="#16709f" stroke-width="0.8"/><circle cx="376.4" cy="214.5" r="0.74" fill="#c8ecff"/>
<circle cx="370" cy="216.6" r="2.25" fill="#2aa3da" stroke="#16709f" stroke-width="0.8"/><circle cx="370" cy="216.6" r="0.74" fill="#c8ecff"/>
<path d="M374 224 C375 239.85 385.2 255.7 402 255.7" fill="none" stroke="#3a3a3a" stroke-width="1"/>
<line x1="364" y1="255.7" x2="405" y2="255.7" stroke="#3a3a3a" stroke-width="1"/>
<path d="M407 255.7 L402.8 253.79999999999998 L403.8 255.7 L402.8 257.59999999999997Z" fill="#333"/>
<rect x="411.3" y="215.3" width="6.2" height="73.9" fill="#fff" stroke="#6a6a6a" stroke-width="1"/>
<clipPath id="c3"><rect x="417.7" y="200" width="40" height="100"/></clipPath>
<g clip-path="url(#c3)">
<path d="M423.0 223.8L422.6 219.7 M425.6 223.8L426.3 219.8 M428.1 224.6L429.9 221.0 M430.2 226.1L433.0 223.0 M431.9 228.1L435.4 225.9 M432.9 230.4L436.9 229.3 M433.3 233.0L437.4 233.0 M432.9 235.6L436.9 236.7 M431.9 237.9L435.4 240.1 M430.2 239.9L433.0 243.0 M428.1 241.4L429.9 245.0 M425.6 242.2L426.3 246.2 M423.0 242.2L422.6 246.3" stroke="#8a8a8a" stroke-width="0.7"/>
<circle cx="424.0" cy="233.0" r="9.8" fill="#FDBF10"/>
<path d="M423.0 259.4L422.6 255.3 M425.6 259.4L426.3 255.4 M428.1 260.2L429.9 256.6 M430.2 261.7L433.0 258.6 M431.9 263.7L435.4 261.5 M432.9 266.0L436.9 264.9 M433.3 268.6L437.4 268.6 M432.9 271.2L436.9 272.3 M431.9 273.5L435.4 275.7 M430.2 275.5L433.0 278.6 M428.1 277.0L429.9 280.6 M425.6 277.8L426.3 281.8 M423.0 277.8L422.6 281.9" stroke="#8a8a8a" stroke-width="0.7"/>
<circle cx="424.0" cy="268.6" r="9.8" fill="#FDBF10"/>
</g>
<circle cx="438.8" cy="232.4" r="2.1" fill="#2aa3da" stroke="#16709f" stroke-width="0.8"/><circle cx="438.8" cy="232.4" r="0.69" fill="#c8ecff"/>
<text x="463.5" y="198.6" class="sb7" text-anchor="middle">BSA</text>
<path transform="translate(456.1,211.2) scale(8)" d="M-0.8,-0.35 C-0.95,-0.9 -0.25,-1.0 -0.05,-0.7 C0.0,-1.15 0.45,-1.05 0.42,-0.68 C0.9,-0.62 1.02,-0.05 0.85,0.3 C0.95,0.8 0.35,1.02 0.0,0.95 C-0.5,1.02 -0.98,0.6 -0.92,0.1 C-1.0,-0.1 -0.92,-0.28 -0.8,-0.35 Z M-0.62,-0.3 C-0.2,-0.62 0.42,-0.5 0.62,-0.1 C0.72,0.32 0.22,0.62 -0.2,0.52 C-0.62,0.42 -0.52,0.0 -0.1,0.0 C0.3,0.0 0.32,0.32 0.0,0.32 M-0.72,0.48 C-0.3,0.18 0.2,0.82 0.52,0.5 M-0.3,-0.82 C0.0,-0.42 0.42,-0.32 0.72,-0.42 M-0.1,-0.62 C0.1,-0.9 0.3,-0.85 0.3,-0.62 M-0.55,0.75 C-0.2,0.4 0.5,0.2 0.7,0.6 M0.2,-0.2 C0.5,0.0 0.2,0.3 -0.3,0.25 C-0.7,0.1 -0.4,-0.5 0.1,-0.4 M-0.85,-0.05 C-0.5,-0.2 -0.4,0.3 -0.65,0.35" fill="none" stroke="#3a3a3a" stroke-width="0.075"/>
<path d="M454.5 223.2 C455.5 239.25 466.7 255.3 485 255.3" fill="none" stroke="#3a3a3a" stroke-width="1"/>
<line x1="443" y1="255.3" x2="487.5" y2="255.3" stroke="#3a3a3a" stroke-width="1"/>
<path d="M489.5 255.3 L485.3 253.4 L486.3 255.3 L485.3 257.2Z" fill="#333"/>
<rect x="496.1" y="213.0" width="6.2" height="76.2" fill="#fff" stroke="#6a6a6a" stroke-width="1"/>
<clipPath id="c4"><rect x="502.5" y="200" width="40" height="100"/></clipPath>
<g clip-path="url(#c4)">
<path d="M507.5 222.5L507.1 218.4 M510.1 222.5L510.8 218.5 M512.6 223.3L514.4 219.7 M514.7 224.8L517.5 221.7 M516.4 226.8L519.9 224.6 M517.4 229.1L521.4 228.0 M517.8 231.7L521.9 231.7 M517.4 234.3L521.4 235.4 M516.4 236.6L519.9 238.8 M514.7 238.6L517.5 241.7 M512.6 240.1L514.4 243.7 M510.1 240.9L510.8 244.9 M507.5 240.9L507.1 245.0" stroke="#8a8a8a" stroke-width="0.7"/>
<circle cx="508.5" cy="231.7" r="9.8" fill="#FDBF10"/>
<path d="M507.5 255.5L507.1 251.4 M510.1 255.5L510.8 251.5 M512.6 256.3L514.4 252.7 M514.7 257.8L517.5 254.7 M516.4 259.8L519.9 257.6 M517.4 262.1L521.4 261.0 M517.8 264.7L521.9 264.7 M517.4 267.3L521.4 268.4 M516.4 269.6L519.9 271.8 M514.7 271.6L517.5 274.7 M512.6 273.1L514.4 276.7 M510.1 273.9L510.8 277.9 M507.5 273.9L507.1 278.0" stroke="#8a8a8a" stroke-width="0.7"/>
<circle cx="508.5" cy="264.7" r="9.8" fill="#FDBF10"/>
</g>
<circle cx="523" cy="230.3" r="2.1" fill="#2aa3da" stroke="#16709f" stroke-width="0.8"/><circle cx="523" cy="230.3" r="0.69" fill="#c8ecff"/>
<path transform="translate(534.6,227.8) scale(8)" d="M-0.8,-0.35 C-0.95,-0.9 -0.25,-1.0 -0.05,-0.7 C0.0,-1.15 0.45,-1.05 0.42,-0.68 C0.9,-0.62 1.02,-0.05 0.85,0.3 C0.95,0.8 0.35,1.02 0.0,0.95 C-0.5,1.02 -0.98,0.6 -0.92,0.1 C-1.0,-0.1 -0.92,-0.28 -0.8,-0.35 Z M-0.62,-0.3 C-0.2,-0.62 0.42,-0.5 0.62,-0.1 C0.72,0.32 0.22,0.62 -0.2,0.52 C-0.62,0.42 -0.52,0.0 -0.1,0.0 C0.3,0.0 0.32,0.32 0.0,0.32 M-0.72,0.48 C-0.3,0.18 0.2,0.82 0.52,0.5 M-0.3,-0.82 C0.0,-0.42 0.42,-0.32 0.72,-0.42 M-0.1,-0.62 C0.1,-0.9 0.3,-0.85 0.3,-0.62 M-0.55,0.75 C-0.2,0.4 0.5,0.2 0.7,0.6 M0.2,-0.2 C0.5,0.0 0.2,0.3 -0.3,0.25 C-0.7,0.1 -0.4,-0.5 0.1,-0.4 M-0.85,-0.05 C-0.5,-0.2 -0.4,0.3 -0.65,0.35" fill="none" stroke="#3a3a3a" stroke-width="0.075"/>
<rect x="405.3" y="296.9" width="133.2" height="54.5" rx="10" ry="10" fill="none" stroke="#505050" stroke-width="1"/>
<circle cx="414.9" cy="323.3" r="7.4" fill="#FDBF10"/>
<path d="M422 323.2H430.5 M440 323.6H444 M451.5 323.6H457 M464.5 319.5L471 312.5 M462.5 327.5L466 332 M470 333L475.5 329.5 M469.5 338.5L475 344.5 M471.2 337.5L476.7 343.5" stroke="#a0a8a0" stroke-width="0.7" fill="none"/>
<text x="433.6" y="325.6" class="g6" text-anchor="middle">S</text>
<text x="446.8" y="325.6" class="g6" text-anchor="middle">C</text>
<text x="448.5" y="319.2" class="g45" text-anchor="middle">H<tspan dy="1.5" font-size="3">2</tspan></text>
<text x="462.3" y="325.6" class="g6" text-anchor="middle">CH</text>
<text x="472" y="313.5" class="g45">NH<tspan dy="1.5" font-size="3">2</tspan></text>
<text x="466.8" y="337.4" class="g6" text-anchor="middle">C</text>
<text x="478" y="330.6" class="g6" text-anchor="middle">O</text>
<text x="477.5" y="349.4" class="g6" text-anchor="middle">O</text>
<text x="440.5" y="341.8" class="g55" text-anchor="middle">L-Cysteine</text>
<path d="M480.7 311.5L494.8 316.9 M481.6 326.4L494.8 316.9 M499.5 314L507 311.2 M499.5 319.5L508 324" stroke="#444" stroke-width="0.8" fill="none"/>
<circle cx="494.8" cy="316.9" r="2.3" fill="#2aa3da" stroke="#16709f" stroke-width="0.8"/><circle cx="494.8" cy="316.9" r="0.76" fill="#c8ecff"/>
<text x="490.4" y="329.6" class="s6b">Cu<tspan font-size="4.2" dy="-2.4">2+</tspan></text>
<path transform="translate(517,316.5) scale(8)" d="M-0.8,-0.35 C-0.95,-0.9 -0.25,-1.0 -0.05,-0.7 C0.0,-1.15 0.45,-1.05 0.42,-0.68 C0.9,-0.62 1.02,-0.05 0.85,0.3 C0.95,0.8 0.35,1.02 0.0,0.95 C-0.5,1.02 -0.98,0.6 -0.92,0.1 C-1.0,-0.1 -0.92,-0.28 -0.8,-0.35 Z M-0.62,-0.3 C-0.2,-0.62 0.42,-0.5 0.62,-0.1 C0.72,0.32 0.22,0.62 -0.2,0.52 C-0.62,0.42 -0.52,0.0 -0.1,0.0 C0.3,0.0 0.32,0.32 0.0,0.32 M-0.72,0.48 C-0.3,0.18 0.2,0.82 0.52,0.5 M-0.3,-0.82 C0.0,-0.42 0.42,-0.32 0.72,-0.42 M-0.1,-0.62 C0.1,-0.9 0.3,-0.85 0.3,-0.62 M-0.55,0.75 C-0.2,0.4 0.5,0.2 0.7,0.6 M0.2,-0.2 C0.5,0.0 0.2,0.3 -0.3,0.25 C-0.7,0.1 -0.4,-0.5 0.1,-0.4 M-0.85,-0.05 C-0.5,-0.2 -0.4,0.3 -0.65,0.35" fill="none" stroke="#3a3a3a" stroke-width="0.075"/>
</svg>
</body></html>
